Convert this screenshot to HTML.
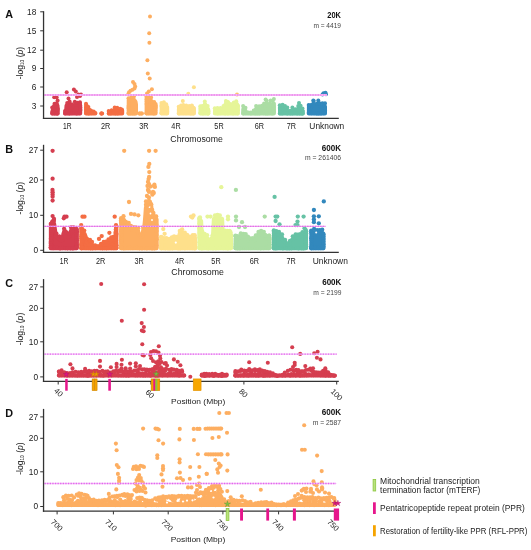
<!DOCTYPE html>
<html><head><meta charset="utf-8"><style>
html,body{margin:0;padding:0;background:#fff;}
body{width:531px;height:550px;overflow:hidden;font-family:"Liberation Sans", sans-serif;}
svg{display:block;will-change:transform;}
</style></head><body>
<svg width="531" height="550" viewBox="0 0 531 550" font-family='"Liberation Sans", sans-serif'>
<rect width="531" height="550" fill="#fff"/>
<path d="M52.4,113.4 L52.4,113.4 L52.4,111.6 L53.0,109.1 L54.0,106.1 L57.5,105.6 L57.7,108.6 L57.7,111.6 L57.7,113.4 Z" fill="#d53e4f" stroke="#d53e4f" stroke-width="4.0" stroke-linejoin="round"/>
<circle cx="52.2" cy="107.6" r="2.0" fill="#d53e4f"/>
<circle cx="54.5" cy="103.8" r="2.0" fill="#d53e4f"/>
<circle cx="56.7" cy="103.3" r="2.0" fill="#d53e4f"/>
<circle cx="52.2" cy="113.6" r="2.0" fill="#d53e4f"/>
<circle cx="54.6" cy="113.6" r="2.0" fill="#d53e4f"/>
<circle cx="56.9" cy="113.6" r="2.0" fill="#d53e4f"/>
<circle cx="52.5" cy="112.0" r="2.0" fill="#d53e4f"/>
<circle cx="57.8" cy="109.0" r="2.0" fill="#d53e4f"/>
<circle cx="57.5" cy="111.0" r="2.0" fill="#d53e4f"/>
<circle cx="57.5" cy="113.6" r="2.0" fill="#d53e4f"/>
<path d="M65.2,113.4 L65.2,113.4 L65.2,113.1 L66.0,112.1 L66.5,105.6 L68.0,104.1 L70.0,104.6 L71.0,107.6 L72.5,106.6 L73.5,105.1 L76.0,104.6 L78.0,105.1 L80.0,104.6 L80.2,106.1 L80.2,113.4 Z" fill="#d53e4f" stroke="#d53e4f" stroke-width="4.0" stroke-linejoin="round"/>
<circle cx="65.0" cy="111.0" r="2.0" fill="#d53e4f"/>
<circle cx="67.2" cy="103.0" r="2.0" fill="#d53e4f"/>
<circle cx="69.6" cy="101.4" r="2.0" fill="#d53e4f"/>
<circle cx="71.8" cy="104.2" r="2.0" fill="#d53e4f"/>
<circle cx="74.8" cy="101.8" r="2.0" fill="#d53e4f"/>
<circle cx="77.5" cy="102.7" r="2.0" fill="#d53e4f"/>
<circle cx="80.0" cy="102.2" r="2.0" fill="#d53e4f"/>
<circle cx="65.0" cy="113.6" r="2.0" fill="#d53e4f"/>
<circle cx="67.1" cy="113.2" r="2.0" fill="#d53e4f"/>
<circle cx="69.4" cy="113.4" r="2.0" fill="#d53e4f"/>
<circle cx="71.9" cy="113.3" r="2.0" fill="#d53e4f"/>
<circle cx="74.1" cy="113.1" r="2.0" fill="#d53e4f"/>
<circle cx="76.7" cy="113.5" r="2.0" fill="#d53e4f"/>
<circle cx="79.2" cy="113.3" r="2.0" fill="#d53e4f"/>
<circle cx="65.5" cy="112.0" r="2.0" fill="#d53e4f"/>
<circle cx="79.7" cy="103.5" r="2.0" fill="#d53e4f"/>
<circle cx="80.1" cy="105.4" r="2.0" fill="#d53e4f"/>
<circle cx="80.3" cy="107.8" r="2.0" fill="#d53e4f"/>
<circle cx="80.4" cy="110.0" r="2.0" fill="#d53e4f"/>
<circle cx="79.9" cy="112.3" r="2.0" fill="#d53e4f"/>
<path d="M86.2,113.4 L86.2,107.6 L86.2,105.6 L87.0,106.1 L88.0,109.1 L90.0,110.1 L91.0,113.1 L94.0,113.4 L95.3,113.4 L95.3,113.4 L95.3,113.4 Z" fill="#f46d43" stroke="#f46d43" stroke-width="4.0" stroke-linejoin="round"/>
<circle cx="86.0" cy="103.8" r="2.0" fill="#f46d43"/>
<circle cx="88.4" cy="107.1" r="2.0" fill="#f46d43"/>
<circle cx="91.2" cy="110.7" r="2.0" fill="#f46d43"/>
<circle cx="93.7" cy="111.6" r="2.0" fill="#f46d43"/>
<circle cx="86.0" cy="113.3" r="2.0" fill="#f46d43"/>
<circle cx="88.6" cy="113.6" r="2.0" fill="#f46d43"/>
<circle cx="91.2" cy="113.2" r="2.0" fill="#f46d43"/>
<circle cx="94.0" cy="113.1" r="2.0" fill="#f46d43"/>
<circle cx="86.3" cy="105.0" r="2.0" fill="#f46d43"/>
<circle cx="86.0" cy="107.3" r="2.0" fill="#f46d43"/>
<circle cx="86.1" cy="109.5" r="2.0" fill="#f46d43"/>
<circle cx="86.0" cy="111.4" r="2.0" fill="#f46d43"/>
<circle cx="95.4" cy="113.0" r="2.0" fill="#f46d43"/>
<path d="M101.6,113.4 L101.6,113.4 L102.0,113.4 L102.2,113.4 L102.2,113.4 Z" fill="#f46d43" stroke="#f46d43" stroke-width="4.0" stroke-linejoin="round"/>
<circle cx="101.4" cy="113.5" r="2.0" fill="#f46d43"/>
<circle cx="101.4" cy="113.6" r="2.0" fill="#f46d43"/>
<path d="M108.9,113.4 L108.9,113.4 L109.0,113.1 L112.0,112.1 L114.0,110.6 L116.0,109.6 L118.0,111.1 L120.0,110.6 L122.2,110.6 L122.2,112.1 L122.2,113.4 Z" fill="#f46d43" stroke="#f46d43" stroke-width="4.0" stroke-linejoin="round"/>
<circle cx="108.7" cy="110.9" r="2.0" fill="#f46d43"/>
<circle cx="111.7" cy="110.2" r="2.0" fill="#f46d43"/>
<circle cx="114.7" cy="107.4" r="2.0" fill="#f46d43"/>
<circle cx="117.2" cy="107.8" r="2.0" fill="#f46d43"/>
<circle cx="120.2" cy="108.8" r="2.0" fill="#f46d43"/>
<circle cx="108.7" cy="113.5" r="2.0" fill="#f46d43"/>
<circle cx="110.8" cy="113.5" r="2.0" fill="#f46d43"/>
<circle cx="113.2" cy="113.2" r="2.0" fill="#f46d43"/>
<circle cx="115.4" cy="113.6" r="2.0" fill="#f46d43"/>
<circle cx="117.7" cy="113.4" r="2.0" fill="#f46d43"/>
<circle cx="120.2" cy="113.0" r="2.0" fill="#f46d43"/>
<circle cx="109.1" cy="112.0" r="2.0" fill="#f46d43"/>
<circle cx="121.9" cy="109.5" r="2.0" fill="#f46d43"/>
<circle cx="121.8" cy="111.3" r="2.0" fill="#f46d43"/>
<path d="M128.7,113.4 L128.7,108.6 L128.7,103.6 L128.7,100.1 L131.0,99.1 L134.0,99.6 L135.5,101.6 L136.0,104.6 L136.0,108.6 L136.0,112.6 L136.0,113.4 Z" fill="#fdae61" stroke="#fdae61" stroke-width="4.0" stroke-linejoin="round"/>
<circle cx="128.5" cy="98.2" r="2.0" fill="#fdae61"/>
<circle cx="131.4" cy="96.5" r="2.0" fill="#fdae61"/>
<circle cx="133.9" cy="96.4" r="2.0" fill="#fdae61"/>
<circle cx="128.5" cy="113.6" r="2.0" fill="#fdae61"/>
<circle cx="130.5" cy="113.5" r="2.0" fill="#fdae61"/>
<circle cx="132.6" cy="113.4" r="2.0" fill="#fdae61"/>
<circle cx="134.5" cy="113.6" r="2.0" fill="#fdae61"/>
<circle cx="128.6" cy="106.0" r="2.0" fill="#fdae61"/>
<circle cx="128.5" cy="108.1" r="2.0" fill="#fdae61"/>
<circle cx="128.9" cy="110.6" r="2.0" fill="#fdae61"/>
<circle cx="128.7" cy="112.5" r="2.0" fill="#fdae61"/>
<circle cx="135.9" cy="110.0" r="2.0" fill="#fdae61"/>
<circle cx="135.6" cy="111.9" r="2.0" fill="#fdae61"/>
<path d="M141.7,113.4 L139.4,113.4 L139.4,113.4 L139.4,113.4 Z" fill="#fdae61" stroke="#fdae61" stroke-width="4.0" stroke-linejoin="round"/>
<circle cx="141.8" cy="113.5" r="2.0" fill="#fdae61"/>
<circle cx="139.5" cy="113.5" r="2.0" fill="#fdae61"/>
<path d="M146.6,113.4 L146.6,101.6 L146.6,99.6 L150.0,99.6 L152.0,101.6 L152.5,104.1 L155.0,104.6 L155.6,106.6 L155.6,113.4 Z" fill="#fdae61" stroke="#fdae61" stroke-width="4.0" stroke-linejoin="round"/>
<circle cx="146.4" cy="96.8" r="2.0" fill="#fdae61"/>
<circle cx="148.8" cy="97.6" r="2.0" fill="#fdae61"/>
<circle cx="151.1" cy="97.4" r="2.0" fill="#fdae61"/>
<circle cx="154.2" cy="102.0" r="2.0" fill="#fdae61"/>
<circle cx="146.4" cy="113.3" r="2.0" fill="#fdae61"/>
<circle cx="148.3" cy="113.3" r="2.0" fill="#fdae61"/>
<circle cx="151.2" cy="113.1" r="2.0" fill="#fdae61"/>
<circle cx="153.8" cy="113.4" r="2.0" fill="#fdae61"/>
<circle cx="146.5" cy="99.0" r="2.0" fill="#fdae61"/>
<circle cx="146.8" cy="101.4" r="2.0" fill="#fdae61"/>
<circle cx="146.6" cy="103.9" r="2.0" fill="#fdae61"/>
<circle cx="147.0" cy="105.8" r="2.0" fill="#fdae61"/>
<circle cx="147.0" cy="108.5" r="2.0" fill="#fdae61"/>
<circle cx="147.0" cy="110.9" r="2.0" fill="#fdae61"/>
<circle cx="146.6" cy="113.3" r="2.0" fill="#fdae61"/>
<circle cx="155.6" cy="104.0" r="2.0" fill="#fdae61"/>
<circle cx="155.8" cy="105.8" r="2.0" fill="#fdae61"/>
<circle cx="155.6" cy="107.8" r="2.0" fill="#fdae61"/>
<circle cx="155.1" cy="110.2" r="2.0" fill="#fdae61"/>
<circle cx="155.1" cy="112.3" r="2.0" fill="#fdae61"/>
<path d="M161.6,113.4 L161.6,108.6 L161.6,105.1 L162.5,104.1 L164.5,105.6 L166.0,107.1 L167.2,107.6 L167.2,109.6 L167.2,113.4 Z" fill="#fee08b" stroke="#fee08b" stroke-width="4.0" stroke-linejoin="round"/>
<circle cx="161.4" cy="102.9" r="2.0" fill="#fee08b"/>
<circle cx="163.9" cy="102.2" r="2.0" fill="#fee08b"/>
<circle cx="166.2" cy="104.2" r="2.0" fill="#fee08b"/>
<circle cx="161.4" cy="113.2" r="2.0" fill="#fee08b"/>
<circle cx="164.2" cy="113.1" r="2.0" fill="#fee08b"/>
<circle cx="166.6" cy="113.2" r="2.0" fill="#fee08b"/>
<circle cx="161.5" cy="106.0" r="2.0" fill="#fee08b"/>
<circle cx="162.0" cy="108.3" r="2.0" fill="#fee08b"/>
<circle cx="161.9" cy="110.8" r="2.0" fill="#fee08b"/>
<circle cx="161.5" cy="113.0" r="2.0" fill="#fee08b"/>
<circle cx="167.2" cy="107.0" r="2.0" fill="#fee08b"/>
<circle cx="166.7" cy="109.5" r="2.0" fill="#fee08b"/>
<circle cx="167.1" cy="111.6" r="2.0" fill="#fee08b"/>
<path d="M178.9,113.4 L178.9,110.6 L178.9,109.1 L181.0,108.6 L183.0,106.6 L185.0,108.6 L187.0,108.6 L189.0,107.6 L191.0,108.6 L193.0,107.6 L193.9,108.6 L193.9,110.6 L193.9,113.4 Z" fill="#fee08b" stroke="#fee08b" stroke-width="4.0" stroke-linejoin="round"/>
<circle cx="178.7" cy="106.8" r="2.0" fill="#fee08b"/>
<circle cx="181.0" cy="105.5" r="2.0" fill="#fee08b"/>
<circle cx="183.3" cy="105.0" r="2.0" fill="#fee08b"/>
<circle cx="186.2" cy="105.5" r="2.0" fill="#fee08b"/>
<circle cx="189.2" cy="105.9" r="2.0" fill="#fee08b"/>
<circle cx="191.9" cy="105.4" r="2.0" fill="#fee08b"/>
<circle cx="178.7" cy="113.5" r="2.0" fill="#fee08b"/>
<circle cx="180.6" cy="113.0" r="2.0" fill="#fee08b"/>
<circle cx="183.2" cy="113.3" r="2.0" fill="#fee08b"/>
<circle cx="186.0" cy="113.3" r="2.0" fill="#fee08b"/>
<circle cx="188.8" cy="113.1" r="2.0" fill="#fee08b"/>
<circle cx="190.9" cy="113.4" r="2.0" fill="#fee08b"/>
<circle cx="193.1" cy="113.5" r="2.0" fill="#fee08b"/>
<circle cx="178.9" cy="108.0" r="2.0" fill="#fee08b"/>
<circle cx="178.8" cy="110.1" r="2.0" fill="#fee08b"/>
<circle cx="178.9" cy="112.7" r="2.0" fill="#fee08b"/>
<circle cx="193.7" cy="108.0" r="2.0" fill="#fee08b"/>
<circle cx="193.8" cy="110.6" r="2.0" fill="#fee08b"/>
<circle cx="193.7" cy="113.1" r="2.0" fill="#fee08b"/>
<path d="M200.5,113.4 L200.5,110.6 L200.5,108.6 L202.0,109.1 L204.0,106.6 L205.0,104.1 L206.0,105.6 L207.0,108.6 L208.4,110.1 L208.4,111.6 L208.4,113.4 Z" fill="#e6f598" stroke="#e6f598" stroke-width="4.0" stroke-linejoin="round"/>
<circle cx="200.3" cy="106.2" r="2.0" fill="#e6f598"/>
<circle cx="202.4" cy="105.9" r="2.0" fill="#e6f598"/>
<circle cx="204.8" cy="101.4" r="2.0" fill="#e6f598"/>
<circle cx="207.7" cy="106.1" r="2.0" fill="#e6f598"/>
<circle cx="200.3" cy="113.2" r="2.0" fill="#e6f598"/>
<circle cx="202.8" cy="113.4" r="2.0" fill="#e6f598"/>
<circle cx="205.2" cy="113.3" r="2.0" fill="#e6f598"/>
<circle cx="207.8" cy="113.5" r="2.0" fill="#e6f598"/>
<circle cx="200.5" cy="108.0" r="2.0" fill="#e6f598"/>
<circle cx="200.8" cy="110.0" r="2.0" fill="#e6f598"/>
<circle cx="200.7" cy="112.2" r="2.0" fill="#e6f598"/>
<circle cx="208.0" cy="109.0" r="2.0" fill="#e6f598"/>
<circle cx="208.2" cy="111.2" r="2.0" fill="#e6f598"/>
<circle cx="208.2" cy="113.4" r="2.0" fill="#e6f598"/>
<path d="M215.0,113.4 L215.0,112.6 L215.0,110.6 L218.0,110.6 L221.0,110.1 L223.0,108.6 L225.0,105.6 L226.5,102.1 L228.0,102.1 L229.0,105.6 L231.0,107.6 L233.0,106.1 L235.0,105.1 L237.0,104.1 L237.8,105.6 L237.8,108.6 L237.8,113.4 Z" fill="#e6f598" stroke="#e6f598" stroke-width="4.0" stroke-linejoin="round"/>
<circle cx="214.8" cy="108.2" r="2.0" fill="#e6f598"/>
<circle cx="217.5" cy="108.0" r="2.0" fill="#e6f598"/>
<circle cx="220.5" cy="108.0" r="2.0" fill="#e6f598"/>
<circle cx="223.5" cy="106.0" r="2.0" fill="#e6f598"/>
<circle cx="225.9" cy="101.0" r="2.0" fill="#e6f598"/>
<circle cx="229.0" cy="103.6" r="2.0" fill="#e6f598"/>
<circle cx="231.2" cy="104.3" r="2.0" fill="#e6f598"/>
<circle cx="233.8" cy="102.5" r="2.0" fill="#e6f598"/>
<circle cx="236.2" cy="101.3" r="2.0" fill="#e6f598"/>
<circle cx="214.8" cy="113.1" r="2.0" fill="#e6f598"/>
<circle cx="217.6" cy="113.5" r="2.0" fill="#e6f598"/>
<circle cx="220.2" cy="113.2" r="2.0" fill="#e6f598"/>
<circle cx="222.2" cy="113.1" r="2.0" fill="#e6f598"/>
<circle cx="225.1" cy="113.5" r="2.0" fill="#e6f598"/>
<circle cx="227.9" cy="113.4" r="2.0" fill="#e6f598"/>
<circle cx="230.3" cy="113.0" r="2.0" fill="#e6f598"/>
<circle cx="233.0" cy="113.5" r="2.0" fill="#e6f598"/>
<circle cx="235.4" cy="113.3" r="2.0" fill="#e6f598"/>
<circle cx="237.6" cy="113.5" r="2.0" fill="#e6f598"/>
<circle cx="215.3" cy="110.0" r="2.0" fill="#e6f598"/>
<circle cx="215.2" cy="111.8" r="2.0" fill="#e6f598"/>
<circle cx="238.0" cy="106.0" r="2.0" fill="#e6f598"/>
<circle cx="237.6" cy="108.1" r="2.0" fill="#e6f598"/>
<circle cx="238.0" cy="110.3" r="2.0" fill="#e6f598"/>
<circle cx="237.4" cy="112.9" r="2.0" fill="#e6f598"/>
<path d="M243.3,113.4 L243.3,110.6 L243.3,109.1 L245.0,110.1 L247.0,113.4 L249.0,113.4 L251.0,113.4 L253.0,113.4 L255.0,110.6 L257.0,107.6 L259.0,108.6 L261.0,109.6 L263.0,108.1 L265.0,104.1 L266.5,103.6 L268.0,106.6 L270.0,105.6 L272.0,104.1 L273.9,103.6 L273.9,105.6 L273.9,109.6 L273.9,113.4 Z" fill="#abdda4" stroke="#abdda4" stroke-width="4.0" stroke-linejoin="round"/>
<circle cx="243.1" cy="106.0" r="2.0" fill="#abdda4"/>
<circle cx="245.5" cy="107.7" r="2.0" fill="#abdda4"/>
<circle cx="248.4" cy="112.5" r="2.0" fill="#abdda4"/>
<circle cx="250.6" cy="112.6" r="2.0" fill="#abdda4"/>
<circle cx="253.7" cy="110.6" r="2.0" fill="#abdda4"/>
<circle cx="256.1" cy="105.9" r="2.0" fill="#abdda4"/>
<circle cx="259.1" cy="106.2" r="2.0" fill="#abdda4"/>
<circle cx="261.9" cy="105.7" r="2.0" fill="#abdda4"/>
<circle cx="264.1" cy="103.6" r="2.0" fill="#abdda4"/>
<circle cx="266.7" cy="100.7" r="2.0" fill="#abdda4"/>
<circle cx="269.7" cy="103.4" r="2.0" fill="#abdda4"/>
<circle cx="272.7" cy="100.7" r="2.0" fill="#abdda4"/>
<circle cx="243.1" cy="113.6" r="2.0" fill="#abdda4"/>
<circle cx="245.8" cy="113.3" r="2.0" fill="#abdda4"/>
<circle cx="248.1" cy="113.3" r="2.0" fill="#abdda4"/>
<circle cx="250.9" cy="113.4" r="2.0" fill="#abdda4"/>
<circle cx="252.9" cy="113.3" r="2.0" fill="#abdda4"/>
<circle cx="255.1" cy="113.5" r="2.0" fill="#abdda4"/>
<circle cx="257.2" cy="113.6" r="2.0" fill="#abdda4"/>
<circle cx="259.3" cy="113.4" r="2.0" fill="#abdda4"/>
<circle cx="261.5" cy="113.1" r="2.0" fill="#abdda4"/>
<circle cx="263.7" cy="113.3" r="2.0" fill="#abdda4"/>
<circle cx="265.8" cy="113.4" r="2.0" fill="#abdda4"/>
<circle cx="267.7" cy="113.4" r="2.0" fill="#abdda4"/>
<circle cx="269.7" cy="113.2" r="2.0" fill="#abdda4"/>
<circle cx="272.1" cy="113.5" r="2.0" fill="#abdda4"/>
<circle cx="243.8" cy="108.0" r="2.0" fill="#abdda4"/>
<circle cx="243.7" cy="109.9" r="2.0" fill="#abdda4"/>
<circle cx="243.4" cy="112.0" r="2.0" fill="#abdda4"/>
<circle cx="273.8" cy="107.0" r="2.0" fill="#abdda4"/>
<circle cx="273.6" cy="109.2" r="2.0" fill="#abdda4"/>
<circle cx="273.9" cy="111.8" r="2.0" fill="#abdda4"/>
<path d="M280.0,113.4 L280.0,110.6 L280.0,107.6 L281.5,106.1 L283.5,108.6 L286.0,109.6 L288.0,111.1 L289.5,113.4 L291.0,112.6 L292.5,110.6 L294.0,110.1 L296.0,111.6 L298.0,109.6 L299.0,106.6 L300.5,108.6 L302.0,110.6 L302.8,111.1 L302.8,113.4 Z" fill="#66c2a5" stroke="#66c2a5" stroke-width="4.0" stroke-linejoin="round"/>
<circle cx="279.8" cy="105.2" r="2.0" fill="#66c2a5"/>
<circle cx="282.6" cy="104.8" r="2.0" fill="#66c2a5"/>
<circle cx="285.0" cy="106.0" r="2.0" fill="#66c2a5"/>
<circle cx="287.3" cy="107.4" r="2.0" fill="#66c2a5"/>
<circle cx="290.2" cy="110.8" r="2.0" fill="#66c2a5"/>
<circle cx="292.4" cy="107.5" r="2.0" fill="#66c2a5"/>
<circle cx="295.4" cy="109.2" r="2.0" fill="#66c2a5"/>
<circle cx="298.2" cy="106.1" r="2.0" fill="#66c2a5"/>
<circle cx="300.6" cy="105.8" r="2.0" fill="#66c2a5"/>
<circle cx="279.8" cy="113.5" r="2.0" fill="#66c2a5"/>
<circle cx="282.1" cy="113.4" r="2.0" fill="#66c2a5"/>
<circle cx="285.0" cy="113.0" r="2.0" fill="#66c2a5"/>
<circle cx="287.4" cy="113.5" r="2.0" fill="#66c2a5"/>
<circle cx="290.3" cy="113.4" r="2.0" fill="#66c2a5"/>
<circle cx="292.5" cy="113.6" r="2.0" fill="#66c2a5"/>
<circle cx="294.8" cy="113.3" r="2.0" fill="#66c2a5"/>
<circle cx="297.2" cy="113.5" r="2.0" fill="#66c2a5"/>
<circle cx="299.6" cy="113.6" r="2.0" fill="#66c2a5"/>
<circle cx="301.8" cy="113.5" r="2.0" fill="#66c2a5"/>
<circle cx="279.8" cy="108.0" r="2.0" fill="#66c2a5"/>
<circle cx="280.0" cy="109.8" r="2.0" fill="#66c2a5"/>
<circle cx="280.2" cy="111.7" r="2.0" fill="#66c2a5"/>
<circle cx="302.5" cy="108.5" r="2.0" fill="#66c2a5"/>
<circle cx="302.5" cy="110.8" r="2.0" fill="#66c2a5"/>
<circle cx="302.7" cy="113.4" r="2.0" fill="#66c2a5"/>
<path d="M308.9,113.4 L308.9,108.6 L308.9,106.6 L311.0,107.1 L313.3,103.6 L315.0,105.6 L317.0,105.6 L318.3,103.6 L320.0,106.1 L322.0,106.6 L324.4,105.1 L325.0,107.1 L325.0,109.6 L325.0,113.4 Z" fill="#3288bd" stroke="#3288bd" stroke-width="4.0" stroke-linejoin="round"/>
<circle cx="308.7" cy="104.9" r="2.0" fill="#3288bd"/>
<circle cx="311.0" cy="104.9" r="2.0" fill="#3288bd"/>
<circle cx="313.7" cy="100.9" r="2.0" fill="#3288bd"/>
<circle cx="316.7" cy="103.7" r="2.0" fill="#3288bd"/>
<circle cx="319.5" cy="103.2" r="2.0" fill="#3288bd"/>
<circle cx="322.4" cy="103.3" r="2.0" fill="#3288bd"/>
<circle cx="325.0" cy="103.2" r="2.0" fill="#3288bd"/>
<circle cx="308.7" cy="113.1" r="2.0" fill="#3288bd"/>
<circle cx="311.4" cy="113.2" r="2.0" fill="#3288bd"/>
<circle cx="314.2" cy="113.2" r="2.0" fill="#3288bd"/>
<circle cx="316.8" cy="113.5" r="2.0" fill="#3288bd"/>
<circle cx="318.7" cy="113.5" r="2.0" fill="#3288bd"/>
<circle cx="321.0" cy="113.5" r="2.0" fill="#3288bd"/>
<circle cx="323.7" cy="113.3" r="2.0" fill="#3288bd"/>
<circle cx="309.1" cy="106.0" r="2.0" fill="#3288bd"/>
<circle cx="309.0" cy="108.4" r="2.0" fill="#3288bd"/>
<circle cx="309.3" cy="110.1" r="2.0" fill="#3288bd"/>
<circle cx="309.1" cy="112.5" r="2.0" fill="#3288bd"/>
<circle cx="324.7" cy="107.0" r="2.0" fill="#3288bd"/>
<circle cx="324.7" cy="108.8" r="2.0" fill="#3288bd"/>
<circle cx="325.1" cy="110.8" r="2.0" fill="#3288bd"/>
<circle cx="324.7" cy="112.8" r="2.0" fill="#3288bd"/>
<circle cx="54.2" cy="97.2" r="2.0" fill="#d53e4f"/>
<circle cx="56.6" cy="97.2" r="2.0" fill="#d53e4f"/>
<circle cx="57.6" cy="100.5" r="2.0" fill="#d53e4f"/>
<circle cx="66.7" cy="92.2" r="2.0" fill="#d53e4f"/>
<circle cx="73.9" cy="89.4" r="2.0" fill="#d53e4f"/>
<circle cx="75.8" cy="91.6" r="2.0" fill="#d53e4f"/>
<circle cx="78.4" cy="94.4" r="2.0" fill="#d53e4f"/>
<circle cx="81.0" cy="94.4" r="2.0" fill="#d53e4f"/>
<circle cx="80.0" cy="96.0" r="2.0" fill="#d53e4f"/>
<circle cx="68.5" cy="98.5" r="2.0" fill="#d53e4f"/>
<circle cx="77.0" cy="97.0" r="2.0" fill="#d53e4f"/>
<circle cx="150.0" cy="16.6" r="2.0" fill="#fdae61"/>
<circle cx="149.2" cy="33.2" r="2.0" fill="#fdae61"/>
<circle cx="149.4" cy="42.8" r="2.0" fill="#fdae61"/>
<circle cx="147.4" cy="60.2" r="2.0" fill="#fdae61"/>
<circle cx="147.8" cy="73.4" r="2.0" fill="#fdae61"/>
<circle cx="149.7" cy="78.5" r="2.0" fill="#fdae61"/>
<circle cx="151.9" cy="89.3" r="2.0" fill="#fdae61"/>
<circle cx="148.8" cy="91.5" r="2.0" fill="#fdae61"/>
<circle cx="147.0" cy="93.5" r="2.0" fill="#fdae61"/>
<circle cx="133.0" cy="81.9" r="2.0" fill="#fdae61"/>
<circle cx="134.5" cy="84.0" r="2.0" fill="#fdae61"/>
<circle cx="135.2" cy="86.5" r="2.0" fill="#fdae61"/>
<circle cx="134.5" cy="88.5" r="2.0" fill="#fdae61"/>
<circle cx="132.5" cy="89.8" r="2.0" fill="#fdae61"/>
<circle cx="130.5" cy="90.7" r="2.0" fill="#fdae61"/>
<circle cx="129.0" cy="92.2" r="2.0" fill="#fdae61"/>
<circle cx="128.3" cy="94.0" r="2.0" fill="#fdae61"/>
<circle cx="182.8" cy="101.0" r="2.0" fill="#fee08b"/>
<circle cx="188.3" cy="93.8" r="2.0" fill="#fee08b"/>
<circle cx="193.9" cy="87.2" r="2.0" fill="#fee08b"/>
<circle cx="273.9" cy="99.1" r="2.0" fill="#abdda4"/>
<circle cx="270.6" cy="100.6" r="2.0" fill="#abdda4"/>
<circle cx="265.6" cy="99.4" r="2.0" fill="#abdda4"/>
<circle cx="299.0" cy="103.1" r="2.0" fill="#66c2a5"/>
<circle cx="323.5" cy="93.2" r="2.0" fill="#3288bd"/>
<circle cx="325.5" cy="92.7" r="2.0" fill="#3288bd"/>
<circle cx="322.5" cy="94.5" r="2.0" fill="#3288bd"/>
<circle cx="326.0" cy="94.3" r="2.0" fill="#3288bd"/>
<circle cx="313.3" cy="100.5" r="2.0" fill="#3288bd"/>
<circle cx="318.3" cy="100.5" r="2.0" fill="#3288bd"/>
<circle cx="237.0" cy="94.4" r="2.0" fill="#fcc36f"/>
<line x1="44.5" y1="95.0" x2="327" y2="95.0" stroke="#f6bcf6" stroke-width="1.8"/>
<line x1="44.5" y1="95.0" x2="327" y2="95.0" stroke="#ee96ee" stroke-width="1.8" stroke-dasharray="1.5 1.1"/>
<line x1="43.55" y1="11.2" x2="43.55" y2="118.89999999999999" stroke="#333333" stroke-width="1.3"/>
<line x1="40.2" y1="11.8" x2="43.55" y2="11.8" stroke="#333333" stroke-width="1"/>
<text x="36.3" y="14.75" font-size="8.3" text-anchor="end" font-weight="normal" fill="#222222" >18</text>
<line x1="40.2" y1="30.8" x2="43.55" y2="30.8" stroke="#333333" stroke-width="1"/>
<text x="36.3" y="33.75" font-size="8.3" text-anchor="end" font-weight="normal" fill="#222222" >15</text>
<line x1="40.2" y1="50.2" x2="43.55" y2="50.2" stroke="#333333" stroke-width="1"/>
<text x="36.3" y="53.15" font-size="8.3" text-anchor="end" font-weight="normal" fill="#222222" >12</text>
<line x1="40.2" y1="68.5" x2="43.55" y2="68.5" stroke="#333333" stroke-width="1"/>
<text x="36.3" y="71.45" font-size="8.3" text-anchor="end" font-weight="normal" fill="#222222" >9</text>
<line x1="40.2" y1="87.0" x2="43.55" y2="87.0" stroke="#333333" stroke-width="1"/>
<text x="36.3" y="89.95" font-size="8.3" text-anchor="end" font-weight="normal" fill="#222222" >6</text>
<line x1="40.2" y1="106.0" x2="43.55" y2="106.0" stroke="#333333" stroke-width="1"/>
<text x="36.3" y="108.95" font-size="8.3" text-anchor="end" font-weight="normal" fill="#222222" >3</text>
<text transform="translate(23.2,63.1) rotate(-90)" font-size="8.6" text-anchor="middle" fill="#222222" textLength="32.5" lengthAdjust="spacingAndGlyphs">-log<tspan font-size="4.8" dy="0.9">10</tspan><tspan dy="-0.9"> (</tspan><tspan font-style="italic">p</tspan>)</text>
<text x="5.2" y="17.5" font-size="10.8" text-anchor="start" font-weight="bold" fill="#111" >A</text>
<line x1="42.9" y1="118.3" x2="338.8" y2="118.3" stroke="#333333" stroke-width="1.3"/>
<text x="67.2" y="129.0" font-size="8.2" text-anchor="middle" font-weight="normal" fill="#222222" textLength="8.6" lengthAdjust="spacingAndGlyphs" >1R</text>
<text x="105.7" y="129.0" font-size="8.2" text-anchor="middle" font-weight="normal" fill="#222222" textLength="9.3" lengthAdjust="spacingAndGlyphs" >2R</text>
<text x="143.9" y="129.0" font-size="8.2" text-anchor="middle" font-weight="normal" fill="#222222" textLength="9.3" lengthAdjust="spacingAndGlyphs" >3R</text>
<text x="176" y="129.0" font-size="8.2" text-anchor="middle" font-weight="normal" fill="#222222" textLength="9.3" lengthAdjust="spacingAndGlyphs" >4R</text>
<text x="219" y="129.0" font-size="8.2" text-anchor="middle" font-weight="normal" fill="#222222" textLength="9.3" lengthAdjust="spacingAndGlyphs" >5R</text>
<text x="259.4" y="129.0" font-size="8.2" text-anchor="middle" font-weight="normal" fill="#222222" textLength="9.3" lengthAdjust="spacingAndGlyphs" >6R</text>
<text x="291.4" y="129.0" font-size="8.2" text-anchor="middle" font-weight="normal" fill="#222222" textLength="9.3" lengthAdjust="spacingAndGlyphs" >7R</text>
<text x="326.8" y="129.0" font-size="8.2" text-anchor="middle" font-weight="normal" fill="#222222" textLength="34.9" lengthAdjust="spacingAndGlyphs" >Unknown</text>
<text x="196.6" y="141.7" font-size="8.4" text-anchor="middle" font-weight="normal" fill="#222222" textLength="52.5" lengthAdjust="spacingAndGlyphs" >Chromosome</text>
<text x="341" y="17.8" font-size="8.4" text-anchor="end" font-weight="bold" fill="#111" textLength="13.7" lengthAdjust="spacingAndGlyphs" >20K</text>
<text x="341" y="27.8" font-size="7.6" text-anchor="end" font-weight="normal" fill="#444" textLength="27.6" lengthAdjust="spacingAndGlyphs" >m = 4419</text>
<path d="M51.0,248.2 L51.0,236.9 L51.0,234.9 L51.0,226.9 L51.5,223.9 L52.5,221.4 L54.0,223.9 L55.0,230.9 L55.8,235.9 L58.0,237.4 L61.0,240.4 L62.5,239.9 L63.5,233.9 L64.5,230.9 L65.5,231.4 L66.5,234.9 L68.0,236.9 L69.5,235.9 L71.0,230.9 L72.0,228.9 L73.5,229.9 L75.0,231.9 L76.7,231.4 L76.7,231.9 L76.7,248.2 Z" fill="#d53e4f" stroke="#d53e4f" stroke-width="4.3" stroke-linejoin="round"/>
<circle cx="50.8" cy="223.9" r="2.15" fill="#d53e4f"/>
<circle cx="53.9" cy="221.0" r="2.15" fill="#d53e4f"/>
<circle cx="56.4" cy="233.6" r="2.15" fill="#d53e4f"/>
<circle cx="59.2" cy="236.3" r="2.15" fill="#d53e4f"/>
<circle cx="61.9" cy="237.7" r="2.15" fill="#d53e4f"/>
<circle cx="64.1" cy="228.8" r="2.15" fill="#d53e4f"/>
<circle cx="66.5" cy="232.6" r="2.15" fill="#d53e4f"/>
<circle cx="68.9" cy="233.7" r="2.15" fill="#d53e4f"/>
<circle cx="71.1" cy="227.4" r="2.15" fill="#d53e4f"/>
<circle cx="73.5" cy="227.5" r="2.15" fill="#d53e4f"/>
<circle cx="76.3" cy="229.2" r="2.15" fill="#d53e4f"/>
<circle cx="50.8" cy="248.1" r="2.15" fill="#d53e4f"/>
<circle cx="53.1" cy="248.2" r="2.15" fill="#d53e4f"/>
<circle cx="55.1" cy="247.9" r="2.15" fill="#d53e4f"/>
<circle cx="57.3" cy="247.9" r="2.15" fill="#d53e4f"/>
<circle cx="60.1" cy="248.4" r="2.15" fill="#d53e4f"/>
<circle cx="62.4" cy="248.0" r="2.15" fill="#d53e4f"/>
<circle cx="65.3" cy="248.2" r="2.15" fill="#d53e4f"/>
<circle cx="67.5" cy="248.3" r="2.15" fill="#d53e4f"/>
<circle cx="70.3" cy="248.3" r="2.15" fill="#d53e4f"/>
<circle cx="72.8" cy="248.4" r="2.15" fill="#d53e4f"/>
<circle cx="75.2" cy="247.9" r="2.15" fill="#d53e4f"/>
<circle cx="51.3" cy="234.2" r="2.15" fill="#d53e4f"/>
<circle cx="51.4" cy="236.4" r="2.15" fill="#d53e4f"/>
<circle cx="50.9" cy="238.7" r="2.15" fill="#d53e4f"/>
<circle cx="51.1" cy="241.3" r="2.15" fill="#d53e4f"/>
<circle cx="50.8" cy="243.1" r="2.15" fill="#d53e4f"/>
<circle cx="51.1" cy="245.3" r="2.15" fill="#d53e4f"/>
<circle cx="50.8" cy="247.3" r="2.15" fill="#d53e4f"/>
<circle cx="76.7" cy="229.2" r="2.15" fill="#d53e4f"/>
<circle cx="76.9" cy="231.6" r="2.15" fill="#d53e4f"/>
<circle cx="76.4" cy="234.1" r="2.15" fill="#d53e4f"/>
<circle cx="76.3" cy="235.9" r="2.15" fill="#d53e4f"/>
<circle cx="76.3" cy="238.3" r="2.15" fill="#d53e4f"/>
<circle cx="76.7" cy="240.3" r="2.15" fill="#d53e4f"/>
<circle cx="76.3" cy="242.4" r="2.15" fill="#d53e4f"/>
<circle cx="76.7" cy="244.7" r="2.15" fill="#d53e4f"/>
<circle cx="76.8" cy="246.9" r="2.15" fill="#d53e4f"/>
<path d="M81.5,248.2 L81.5,230.9 L81.5,227.9 L82.0,228.9 L83.5,232.9 L84.5,233.9 L86.0,237.9 L87.0,241.9 L89.0,243.9 L91.0,244.4 L93.0,245.4 L95.0,247.4 L97.0,248.2 L99.0,248.2 L100.5,246.4 L103.0,244.4 L106.0,243.9 L108.0,241.9 L110.0,241.4 L112.0,239.9 L114.0,238.4 L115.6,236.4 L116.2,228.9 L116.2,226.4 L116.2,227.9 L116.2,248.2 Z" fill="#f46d43" stroke="#f46d43" stroke-width="4.3" stroke-linejoin="round"/>
<circle cx="81.2" cy="225.1" r="2.15" fill="#f46d43"/>
<circle cx="84.2" cy="230.6" r="2.15" fill="#f46d43"/>
<circle cx="87.3" cy="239.1" r="2.15" fill="#f46d43"/>
<circle cx="89.7" cy="241.4" r="2.15" fill="#f46d43"/>
<circle cx="92.0" cy="242.0" r="2.15" fill="#f46d43"/>
<circle cx="95.1" cy="245.4" r="2.15" fill="#f46d43"/>
<circle cx="98.0" cy="246.2" r="2.15" fill="#f46d43"/>
<circle cx="101.0" cy="244.0" r="2.15" fill="#f46d43"/>
<circle cx="103.7" cy="242.0" r="2.15" fill="#f46d43"/>
<circle cx="105.9" cy="241.6" r="2.15" fill="#f46d43"/>
<circle cx="108.5" cy="239.5" r="2.15" fill="#f46d43"/>
<circle cx="111.2" cy="237.5" r="2.15" fill="#f46d43"/>
<circle cx="113.4" cy="236.9" r="2.15" fill="#f46d43"/>
<circle cx="115.7" cy="233.0" r="2.15" fill="#f46d43"/>
<circle cx="81.2" cy="248.3" r="2.15" fill="#f46d43"/>
<circle cx="83.9" cy="247.9" r="2.15" fill="#f46d43"/>
<circle cx="86.0" cy="248.1" r="2.15" fill="#f46d43"/>
<circle cx="88.3" cy="248.1" r="2.15" fill="#f46d43"/>
<circle cx="90.6" cy="248.3" r="2.15" fill="#f46d43"/>
<circle cx="92.6" cy="248.3" r="2.15" fill="#f46d43"/>
<circle cx="95.4" cy="248.2" r="2.15" fill="#f46d43"/>
<circle cx="97.6" cy="247.9" r="2.15" fill="#f46d43"/>
<circle cx="100.4" cy="248.2" r="2.15" fill="#f46d43"/>
<circle cx="102.5" cy="248.3" r="2.15" fill="#f46d43"/>
<circle cx="104.5" cy="248.2" r="2.15" fill="#f46d43"/>
<circle cx="106.5" cy="248.3" r="2.15" fill="#f46d43"/>
<circle cx="108.7" cy="248.1" r="2.15" fill="#f46d43"/>
<circle cx="111.4" cy="248.0" r="2.15" fill="#f46d43"/>
<circle cx="113.8" cy="248.2" r="2.15" fill="#f46d43"/>
<circle cx="116.2" cy="248.2" r="2.15" fill="#f46d43"/>
<circle cx="81.3" cy="228.2" r="2.15" fill="#f46d43"/>
<circle cx="81.9" cy="230.2" r="2.15" fill="#f46d43"/>
<circle cx="81.6" cy="232.0" r="2.15" fill="#f46d43"/>
<circle cx="81.9" cy="234.3" r="2.15" fill="#f46d43"/>
<circle cx="81.4" cy="236.3" r="2.15" fill="#f46d43"/>
<circle cx="81.5" cy="238.3" r="2.15" fill="#f46d43"/>
<circle cx="81.9" cy="240.4" r="2.15" fill="#f46d43"/>
<circle cx="81.9" cy="242.9" r="2.15" fill="#f46d43"/>
<circle cx="81.3" cy="244.7" r="2.15" fill="#f46d43"/>
<circle cx="81.9" cy="247.1" r="2.15" fill="#f46d43"/>
<circle cx="116.0" cy="225.2" r="2.15" fill="#f46d43"/>
<circle cx="116.2" cy="226.9" r="2.15" fill="#f46d43"/>
<circle cx="115.9" cy="229.5" r="2.15" fill="#f46d43"/>
<circle cx="115.8" cy="232.0" r="2.15" fill="#f46d43"/>
<circle cx="116.4" cy="234.0" r="2.15" fill="#f46d43"/>
<circle cx="116.1" cy="235.9" r="2.15" fill="#f46d43"/>
<circle cx="115.8" cy="238.2" r="2.15" fill="#f46d43"/>
<circle cx="116.0" cy="240.6" r="2.15" fill="#f46d43"/>
<circle cx="116.1" cy="243.1" r="2.15" fill="#f46d43"/>
<circle cx="116.4" cy="245.3" r="2.15" fill="#f46d43"/>
<circle cx="116.3" cy="247.8" r="2.15" fill="#f46d43"/>
<path d="M121.3,248.2 L121.3,222.9 L121.3,220.4 L122.0,220.9 L123.5,219.4 L125.0,221.9 L126.0,224.9 L128.0,225.9 L130.0,226.9 L131.0,228.9 L133.0,229.9 L136.0,229.9 L138.0,230.9 L139.0,234.9 L141.0,236.9 L142.5,235.9 L143.5,228.9 L144.5,225.9 L145.0,220.9 L145.5,214.9 L146.0,207.9 L147.0,203.9 L149.0,203.4 L151.0,204.9 L151.5,209.9 L152.5,213.9 L154.5,217.9 L156.5,219.4 L156.5,222.9 L156.5,226.9 L156.5,248.2 Z" fill="#fdae61" stroke="#fdae61" stroke-width="4.3" stroke-linejoin="round"/>
<circle cx="121.1" cy="218.2" r="2.15" fill="#fdae61"/>
<circle cx="123.5" cy="216.2" r="2.15" fill="#fdae61"/>
<circle cx="125.9" cy="222.0" r="2.15" fill="#fdae61"/>
<circle cx="128.7" cy="222.9" r="2.15" fill="#fdae61"/>
<circle cx="130.9" cy="226.0" r="2.15" fill="#fdae61"/>
<circle cx="133.6" cy="227.1" r="2.15" fill="#fdae61"/>
<circle cx="135.9" cy="227.4" r="2.15" fill="#fdae61"/>
<circle cx="138.1" cy="228.2" r="2.15" fill="#fdae61"/>
<circle cx="140.7" cy="234.6" r="2.15" fill="#fdae61"/>
<circle cx="143.4" cy="227.4" r="2.15" fill="#fdae61"/>
<circle cx="146.0" cy="204.7" r="2.15" fill="#fdae61"/>
<circle cx="148.4" cy="201.6" r="2.15" fill="#fdae61"/>
<circle cx="151.2" cy="204.2" r="2.15" fill="#fdae61"/>
<circle cx="153.4" cy="213.0" r="2.15" fill="#fdae61"/>
<circle cx="156.2" cy="216.4" r="2.15" fill="#fdae61"/>
<circle cx="121.1" cy="248.0" r="2.15" fill="#fdae61"/>
<circle cx="123.9" cy="248.3" r="2.15" fill="#fdae61"/>
<circle cx="125.8" cy="248.2" r="2.15" fill="#fdae61"/>
<circle cx="128.1" cy="248.0" r="2.15" fill="#fdae61"/>
<circle cx="130.2" cy="248.0" r="2.15" fill="#fdae61"/>
<circle cx="132.9" cy="248.1" r="2.15" fill="#fdae61"/>
<circle cx="135.0" cy="247.9" r="2.15" fill="#fdae61"/>
<circle cx="137.2" cy="248.0" r="2.15" fill="#fdae61"/>
<circle cx="139.4" cy="248.3" r="2.15" fill="#fdae61"/>
<circle cx="142.0" cy="248.3" r="2.15" fill="#fdae61"/>
<circle cx="144.8" cy="248.2" r="2.15" fill="#fdae61"/>
<circle cx="146.9" cy="248.3" r="2.15" fill="#fdae61"/>
<circle cx="149.3" cy="248.1" r="2.15" fill="#fdae61"/>
<circle cx="152.1" cy="248.4" r="2.15" fill="#fdae61"/>
<circle cx="154.4" cy="248.3" r="2.15" fill="#fdae61"/>
<circle cx="121.1" cy="220.2" r="2.15" fill="#fdae61"/>
<circle cx="121.1" cy="222.0" r="2.15" fill="#fdae61"/>
<circle cx="121.7" cy="224.1" r="2.15" fill="#fdae61"/>
<circle cx="121.6" cy="226.6" r="2.15" fill="#fdae61"/>
<circle cx="121.7" cy="229.2" r="2.15" fill="#fdae61"/>
<circle cx="121.2" cy="231.3" r="2.15" fill="#fdae61"/>
<circle cx="121.6" cy="233.9" r="2.15" fill="#fdae61"/>
<circle cx="121.5" cy="235.7" r="2.15" fill="#fdae61"/>
<circle cx="121.3" cy="237.8" r="2.15" fill="#fdae61"/>
<circle cx="121.2" cy="239.8" r="2.15" fill="#fdae61"/>
<circle cx="121.2" cy="241.6" r="2.15" fill="#fdae61"/>
<circle cx="121.7" cy="243.6" r="2.15" fill="#fdae61"/>
<circle cx="121.7" cy="245.5" r="2.15" fill="#fdae61"/>
<circle cx="121.3" cy="247.4" r="2.15" fill="#fdae61"/>
<circle cx="156.2" cy="224.2" r="2.15" fill="#fdae61"/>
<circle cx="156.7" cy="226.3" r="2.15" fill="#fdae61"/>
<circle cx="156.5" cy="228.5" r="2.15" fill="#fdae61"/>
<circle cx="156.6" cy="231.0" r="2.15" fill="#fdae61"/>
<circle cx="156.1" cy="233.1" r="2.15" fill="#fdae61"/>
<circle cx="156.5" cy="234.9" r="2.15" fill="#fdae61"/>
<circle cx="156.2" cy="237.4" r="2.15" fill="#fdae61"/>
<circle cx="156.7" cy="239.2" r="2.15" fill="#fdae61"/>
<circle cx="156.1" cy="241.0" r="2.15" fill="#fdae61"/>
<circle cx="156.2" cy="243.0" r="2.15" fill="#fdae61"/>
<circle cx="156.5" cy="245.5" r="2.15" fill="#fdae61"/>
<circle cx="156.1" cy="247.5" r="2.15" fill="#fdae61"/>
<path d="M161.3,248.2 L161.3,239.9 L161.3,239.9 L163.0,240.9 L166.0,241.4 L168.0,242.4 L170.0,239.9 L172.0,239.4 L175.0,239.4 L177.0,238.9 L179.0,236.9 L180.0,232.9 L182.0,231.9 L184.0,233.9 L186.0,235.9 L188.0,237.9 L190.0,238.9 L192.0,237.9 L194.0,237.4 L194.8,237.9 L194.8,248.2 Z" fill="#fee08b" stroke="#fee08b" stroke-width="4.3" stroke-linejoin="round"/>
<circle cx="161.1" cy="236.9" r="2.15" fill="#fee08b"/>
<circle cx="163.9" cy="238.1" r="2.15" fill="#fee08b"/>
<circle cx="166.3" cy="238.1" r="2.15" fill="#fee08b"/>
<circle cx="169.2" cy="238.9" r="2.15" fill="#fee08b"/>
<circle cx="171.9" cy="237.5" r="2.15" fill="#fee08b"/>
<circle cx="174.1" cy="236.3" r="2.15" fill="#fee08b"/>
<circle cx="176.7" cy="237.0" r="2.15" fill="#fee08b"/>
<circle cx="179.8" cy="231.0" r="2.15" fill="#fee08b"/>
<circle cx="182.1" cy="229.3" r="2.15" fill="#fee08b"/>
<circle cx="184.8" cy="232.7" r="2.15" fill="#fee08b"/>
<circle cx="187.1" cy="234.8" r="2.15" fill="#fee08b"/>
<circle cx="189.9" cy="236.7" r="2.15" fill="#fee08b"/>
<circle cx="192.8" cy="235.2" r="2.15" fill="#fee08b"/>
<circle cx="161.1" cy="248.3" r="2.15" fill="#fee08b"/>
<circle cx="163.3" cy="248.0" r="2.15" fill="#fee08b"/>
<circle cx="165.3" cy="248.3" r="2.15" fill="#fee08b"/>
<circle cx="168.0" cy="248.3" r="2.15" fill="#fee08b"/>
<circle cx="169.9" cy="248.4" r="2.15" fill="#fee08b"/>
<circle cx="172.4" cy="248.3" r="2.15" fill="#fee08b"/>
<circle cx="175.2" cy="247.9" r="2.15" fill="#fee08b"/>
<circle cx="178.1" cy="248.3" r="2.15" fill="#fee08b"/>
<circle cx="180.1" cy="248.4" r="2.15" fill="#fee08b"/>
<circle cx="182.5" cy="248.0" r="2.15" fill="#fee08b"/>
<circle cx="184.9" cy="248.3" r="2.15" fill="#fee08b"/>
<circle cx="187.2" cy="248.1" r="2.15" fill="#fee08b"/>
<circle cx="189.8" cy="248.0" r="2.15" fill="#fee08b"/>
<circle cx="192.5" cy="248.1" r="2.15" fill="#fee08b"/>
<circle cx="194.5" cy="247.9" r="2.15" fill="#fee08b"/>
<circle cx="161.4" cy="237.2" r="2.15" fill="#fee08b"/>
<circle cx="161.6" cy="239.2" r="2.15" fill="#fee08b"/>
<circle cx="161.2" cy="241.2" r="2.15" fill="#fee08b"/>
<circle cx="161.2" cy="243.1" r="2.15" fill="#fee08b"/>
<circle cx="161.5" cy="245.7" r="2.15" fill="#fee08b"/>
<circle cx="161.3" cy="247.7" r="2.15" fill="#fee08b"/>
<circle cx="194.7" cy="235.2" r="2.15" fill="#fee08b"/>
<circle cx="194.5" cy="237.1" r="2.15" fill="#fee08b"/>
<circle cx="194.4" cy="239.4" r="2.15" fill="#fee08b"/>
<circle cx="194.7" cy="241.3" r="2.15" fill="#fee08b"/>
<circle cx="194.5" cy="243.8" r="2.15" fill="#fee08b"/>
<circle cx="195.0" cy="246.3" r="2.15" fill="#fee08b"/>
<circle cx="195.0" cy="248.4" r="2.15" fill="#fee08b"/>
<path d="M199.6,248.2 L199.6,221.9 L199.6,219.9 L201.0,220.9 L201.5,232.9 L203.0,233.4 L205.0,236.9 L207.0,237.9 L208.5,241.9 L210.0,242.4 L211.0,238.9 L213.0,237.9 L214.0,218.9 L216.0,218.4 L218.0,217.9 L220.0,218.4 L222.0,218.9 L222.5,232.9 L224.0,234.4 L226.0,233.9 L228.0,232.9 L230.0,233.9 L230.9,234.9 L230.9,248.2 Z" fill="#e6f598" stroke="#e6f598" stroke-width="4.3" stroke-linejoin="round"/>
<circle cx="199.3" cy="218.2" r="2.15" fill="#e6f598"/>
<circle cx="202.1" cy="231.1" r="2.15" fill="#e6f598"/>
<circle cx="204.6" cy="234.0" r="2.15" fill="#e6f598"/>
<circle cx="207.1" cy="235.2" r="2.15" fill="#e6f598"/>
<circle cx="210.0" cy="240.3" r="2.15" fill="#e6f598"/>
<circle cx="212.3" cy="235.8" r="2.15" fill="#e6f598"/>
<circle cx="215.0" cy="215.5" r="2.15" fill="#e6f598"/>
<circle cx="217.5" cy="214.8" r="2.15" fill="#e6f598"/>
<circle cx="219.8" cy="215.3" r="2.15" fill="#e6f598"/>
<circle cx="222.6" cy="230.5" r="2.15" fill="#e6f598"/>
<circle cx="224.9" cy="230.7" r="2.15" fill="#e6f598"/>
<circle cx="227.3" cy="230.8" r="2.15" fill="#e6f598"/>
<circle cx="229.6" cy="230.8" r="2.15" fill="#e6f598"/>
<circle cx="199.3" cy="248.0" r="2.15" fill="#e6f598"/>
<circle cx="201.8" cy="248.4" r="2.15" fill="#e6f598"/>
<circle cx="203.8" cy="248.2" r="2.15" fill="#e6f598"/>
<circle cx="206.3" cy="248.1" r="2.15" fill="#e6f598"/>
<circle cx="208.3" cy="248.4" r="2.15" fill="#e6f598"/>
<circle cx="210.9" cy="248.2" r="2.15" fill="#e6f598"/>
<circle cx="213.0" cy="248.3" r="2.15" fill="#e6f598"/>
<circle cx="215.9" cy="248.3" r="2.15" fill="#e6f598"/>
<circle cx="218.3" cy="248.2" r="2.15" fill="#e6f598"/>
<circle cx="220.7" cy="247.9" r="2.15" fill="#e6f598"/>
<circle cx="223.5" cy="248.2" r="2.15" fill="#e6f598"/>
<circle cx="225.7" cy="248.0" r="2.15" fill="#e6f598"/>
<circle cx="227.8" cy="248.4" r="2.15" fill="#e6f598"/>
<circle cx="230.6" cy="248.2" r="2.15" fill="#e6f598"/>
<circle cx="199.6" cy="219.2" r="2.15" fill="#e6f598"/>
<circle cx="199.7" cy="221.7" r="2.15" fill="#e6f598"/>
<circle cx="199.4" cy="223.6" r="2.15" fill="#e6f598"/>
<circle cx="199.8" cy="225.8" r="2.15" fill="#e6f598"/>
<circle cx="199.4" cy="228.4" r="2.15" fill="#e6f598"/>
<circle cx="199.6" cy="230.7" r="2.15" fill="#e6f598"/>
<circle cx="199.5" cy="232.9" r="2.15" fill="#e6f598"/>
<circle cx="199.7" cy="234.9" r="2.15" fill="#e6f598"/>
<circle cx="199.4" cy="237.5" r="2.15" fill="#e6f598"/>
<circle cx="199.9" cy="239.7" r="2.15" fill="#e6f598"/>
<circle cx="199.5" cy="242.3" r="2.15" fill="#e6f598"/>
<circle cx="200.0" cy="244.2" r="2.15" fill="#e6f598"/>
<circle cx="199.7" cy="246.8" r="2.15" fill="#e6f598"/>
<circle cx="230.5" cy="232.2" r="2.15" fill="#e6f598"/>
<circle cx="230.5" cy="234.3" r="2.15" fill="#e6f598"/>
<circle cx="230.6" cy="236.6" r="2.15" fill="#e6f598"/>
<circle cx="230.6" cy="238.5" r="2.15" fill="#e6f598"/>
<circle cx="230.9" cy="240.4" r="2.15" fill="#e6f598"/>
<circle cx="230.6" cy="242.9" r="2.15" fill="#e6f598"/>
<circle cx="231.0" cy="244.8" r="2.15" fill="#e6f598"/>
<circle cx="230.8" cy="247.0" r="2.15" fill="#e6f598"/>
<path d="M235.7,248.2 L235.7,238.9 L236.0,238.9 L238.0,238.4 L240.0,236.9 L243.0,236.4 L245.0,235.9 L247.0,236.9 L248.5,240.4 L251.0,240.9 L254.0,240.9 L256.0,237.9 L258.0,234.9 L260.0,234.2 L263.0,234.2 L265.0,234.9 L266.0,237.9 L268.0,238.4 L269.3,238.4 L269.3,248.2 Z" fill="#abdda4" stroke="#abdda4" stroke-width="4.3" stroke-linejoin="round"/>
<circle cx="235.5" cy="235.6" r="2.15" fill="#abdda4"/>
<circle cx="237.8" cy="236.1" r="2.15" fill="#abdda4"/>
<circle cx="240.8" cy="233.4" r="2.15" fill="#abdda4"/>
<circle cx="243.5" cy="234.0" r="2.15" fill="#abdda4"/>
<circle cx="245.7" cy="234.1" r="2.15" fill="#abdda4"/>
<circle cx="247.9" cy="236.6" r="2.15" fill="#abdda4"/>
<circle cx="250.6" cy="238.4" r="2.15" fill="#abdda4"/>
<circle cx="253.0" cy="238.1" r="2.15" fill="#abdda4"/>
<circle cx="255.8" cy="235.5" r="2.15" fill="#abdda4"/>
<circle cx="258.5" cy="232.0" r="2.15" fill="#abdda4"/>
<circle cx="261.1" cy="230.8" r="2.15" fill="#abdda4"/>
<circle cx="263.8" cy="231.8" r="2.15" fill="#abdda4"/>
<circle cx="266.2" cy="235.7" r="2.15" fill="#abdda4"/>
<circle cx="269.1" cy="235.7" r="2.15" fill="#abdda4"/>
<circle cx="235.5" cy="248.2" r="2.15" fill="#abdda4"/>
<circle cx="237.5" cy="248.4" r="2.15" fill="#abdda4"/>
<circle cx="239.8" cy="248.4" r="2.15" fill="#abdda4"/>
<circle cx="242.2" cy="248.1" r="2.15" fill="#abdda4"/>
<circle cx="244.1" cy="248.1" r="2.15" fill="#abdda4"/>
<circle cx="246.1" cy="248.0" r="2.15" fill="#abdda4"/>
<circle cx="248.8" cy="248.1" r="2.15" fill="#abdda4"/>
<circle cx="250.7" cy="248.1" r="2.15" fill="#abdda4"/>
<circle cx="253.0" cy="247.9" r="2.15" fill="#abdda4"/>
<circle cx="255.1" cy="247.9" r="2.15" fill="#abdda4"/>
<circle cx="258.0" cy="248.0" r="2.15" fill="#abdda4"/>
<circle cx="260.7" cy="248.3" r="2.15" fill="#abdda4"/>
<circle cx="263.5" cy="248.2" r="2.15" fill="#abdda4"/>
<circle cx="266.4" cy="247.9" r="2.15" fill="#abdda4"/>
<circle cx="268.4" cy="248.0" r="2.15" fill="#abdda4"/>
<circle cx="235.5" cy="236.2" r="2.15" fill="#abdda4"/>
<circle cx="236.0" cy="238.2" r="2.15" fill="#abdda4"/>
<circle cx="236.1" cy="240.1" r="2.15" fill="#abdda4"/>
<circle cx="236.0" cy="242.1" r="2.15" fill="#abdda4"/>
<circle cx="235.8" cy="244.0" r="2.15" fill="#abdda4"/>
<circle cx="235.6" cy="246.6" r="2.15" fill="#abdda4"/>
<circle cx="269.2" cy="235.7" r="2.15" fill="#abdda4"/>
<circle cx="269.5" cy="237.7" r="2.15" fill="#abdda4"/>
<circle cx="269.4" cy="239.6" r="2.15" fill="#abdda4"/>
<circle cx="269.1" cy="242.2" r="2.15" fill="#abdda4"/>
<circle cx="269.4" cy="244.7" r="2.15" fill="#abdda4"/>
<circle cx="269.5" cy="247.2" r="2.15" fill="#abdda4"/>
<path d="M274.1,248.2 L274.1,233.9 L274.1,232.9 L277.0,233.4 L279.0,234.4 L281.0,234.9 L282.5,238.9 L284.0,240.9 L286.0,243.4 L288.0,245.9 L289.5,243.9 L291.0,240.9 L293.0,238.9 L295.0,237.4 L298.0,236.9 L300.0,236.4 L302.0,235.4 L303.5,232.9 L305.9,232.4 L305.9,233.9 L305.9,248.2 Z" fill="#66c2a5" stroke="#66c2a5" stroke-width="4.3" stroke-linejoin="round"/>
<circle cx="273.8" cy="230.5" r="2.15" fill="#66c2a5"/>
<circle cx="276.3" cy="231.2" r="2.15" fill="#66c2a5"/>
<circle cx="279.0" cy="231.9" r="2.15" fill="#66c2a5"/>
<circle cx="282.0" cy="234.3" r="2.15" fill="#66c2a5"/>
<circle cx="285.1" cy="239.9" r="2.15" fill="#66c2a5"/>
<circle cx="287.7" cy="243.3" r="2.15" fill="#66c2a5"/>
<circle cx="290.0" cy="240.9" r="2.15" fill="#66c2a5"/>
<circle cx="292.8" cy="236.3" r="2.15" fill="#66c2a5"/>
<circle cx="295.6" cy="234.5" r="2.15" fill="#66c2a5"/>
<circle cx="297.9" cy="234.6" r="2.15" fill="#66c2a5"/>
<circle cx="300.1" cy="234.2" r="2.15" fill="#66c2a5"/>
<circle cx="302.5" cy="232.1" r="2.15" fill="#66c2a5"/>
<circle cx="305.6" cy="229.9" r="2.15" fill="#66c2a5"/>
<circle cx="273.8" cy="248.3" r="2.15" fill="#66c2a5"/>
<circle cx="275.8" cy="248.4" r="2.15" fill="#66c2a5"/>
<circle cx="277.8" cy="248.1" r="2.15" fill="#66c2a5"/>
<circle cx="280.2" cy="248.1" r="2.15" fill="#66c2a5"/>
<circle cx="282.9" cy="248.4" r="2.15" fill="#66c2a5"/>
<circle cx="285.1" cy="248.1" r="2.15" fill="#66c2a5"/>
<circle cx="287.0" cy="248.4" r="2.15" fill="#66c2a5"/>
<circle cx="289.3" cy="248.4" r="2.15" fill="#66c2a5"/>
<circle cx="291.6" cy="248.3" r="2.15" fill="#66c2a5"/>
<circle cx="294.0" cy="248.1" r="2.15" fill="#66c2a5"/>
<circle cx="296.1" cy="248.1" r="2.15" fill="#66c2a5"/>
<circle cx="298.5" cy="248.4" r="2.15" fill="#66c2a5"/>
<circle cx="301.3" cy="248.3" r="2.15" fill="#66c2a5"/>
<circle cx="303.4" cy="248.4" r="2.15" fill="#66c2a5"/>
<circle cx="305.9" cy="247.9" r="2.15" fill="#66c2a5"/>
<circle cx="274.1" cy="231.2" r="2.15" fill="#66c2a5"/>
<circle cx="273.9" cy="233.1" r="2.15" fill="#66c2a5"/>
<circle cx="274.2" cy="235.5" r="2.15" fill="#66c2a5"/>
<circle cx="274.3" cy="237.5" r="2.15" fill="#66c2a5"/>
<circle cx="274.5" cy="239.7" r="2.15" fill="#66c2a5"/>
<circle cx="274.0" cy="242.1" r="2.15" fill="#66c2a5"/>
<circle cx="273.9" cy="244.6" r="2.15" fill="#66c2a5"/>
<circle cx="274.1" cy="246.9" r="2.15" fill="#66c2a5"/>
<circle cx="306.1" cy="231.2" r="2.15" fill="#66c2a5"/>
<circle cx="306.1" cy="233.6" r="2.15" fill="#66c2a5"/>
<circle cx="305.5" cy="235.8" r="2.15" fill="#66c2a5"/>
<circle cx="306.0" cy="237.7" r="2.15" fill="#66c2a5"/>
<circle cx="305.8" cy="240.0" r="2.15" fill="#66c2a5"/>
<circle cx="305.6" cy="242.3" r="2.15" fill="#66c2a5"/>
<circle cx="305.9" cy="244.3" r="2.15" fill="#66c2a5"/>
<circle cx="306.1" cy="246.3" r="2.15" fill="#66c2a5"/>
<path d="M311.5,248.2 L311.5,234.9 L311.5,232.9 L314.0,232.4 L318.0,232.4 L322.0,232.7 L323.4,233.9 L323.4,236.9 L323.4,248.2 Z" fill="#3288bd" stroke="#3288bd" stroke-width="4.3" stroke-linejoin="round"/>
<circle cx="311.2" cy="230.6" r="2.15" fill="#3288bd"/>
<circle cx="314.1" cy="228.9" r="2.15" fill="#3288bd"/>
<circle cx="317.1" cy="230.1" r="2.15" fill="#3288bd"/>
<circle cx="319.7" cy="230.2" r="2.15" fill="#3288bd"/>
<circle cx="322.2" cy="229.7" r="2.15" fill="#3288bd"/>
<circle cx="311.2" cy="248.3" r="2.15" fill="#3288bd"/>
<circle cx="313.2" cy="248.2" r="2.15" fill="#3288bd"/>
<circle cx="315.8" cy="248.0" r="2.15" fill="#3288bd"/>
<circle cx="318.6" cy="248.0" r="2.15" fill="#3288bd"/>
<circle cx="320.8" cy="248.1" r="2.15" fill="#3288bd"/>
<circle cx="323.1" cy="248.0" r="2.15" fill="#3288bd"/>
<circle cx="311.4" cy="232.2" r="2.15" fill="#3288bd"/>
<circle cx="311.9" cy="234.5" r="2.15" fill="#3288bd"/>
<circle cx="311.9" cy="236.4" r="2.15" fill="#3288bd"/>
<circle cx="311.4" cy="238.2" r="2.15" fill="#3288bd"/>
<circle cx="311.8" cy="240.2" r="2.15" fill="#3288bd"/>
<circle cx="311.8" cy="242.8" r="2.15" fill="#3288bd"/>
<circle cx="311.9" cy="244.8" r="2.15" fill="#3288bd"/>
<circle cx="311.4" cy="246.9" r="2.15" fill="#3288bd"/>
<circle cx="323.2" cy="234.2" r="2.15" fill="#3288bd"/>
<circle cx="323.2" cy="236.5" r="2.15" fill="#3288bd"/>
<circle cx="323.3" cy="239.1" r="2.15" fill="#3288bd"/>
<circle cx="323.2" cy="241.6" r="2.15" fill="#3288bd"/>
<circle cx="323.3" cy="244.2" r="2.15" fill="#3288bd"/>
<circle cx="323.3" cy="246.6" r="2.15" fill="#3288bd"/>
<circle cx="150.5" cy="213.5" r="0.9" fill="#fff"/>
<circle cx="152.0" cy="220.0" r="0.9" fill="#fff"/>
<circle cx="149.5" cy="207.0" r="0.9" fill="#fff"/>
<circle cx="52.6" cy="150.8" r="2.15" fill="#d53e4f"/>
<circle cx="52.6" cy="178.7" r="2.15" fill="#d53e4f"/>
<circle cx="52.5" cy="189.9" r="2.15" fill="#d53e4f"/>
<circle cx="52.6" cy="192.2" r="2.15" fill="#d53e4f"/>
<circle cx="52.6" cy="194.4" r="2.15" fill="#d53e4f"/>
<circle cx="52.6" cy="196.7" r="2.15" fill="#d53e4f"/>
<circle cx="52.6" cy="200.6" r="2.15" fill="#d53e4f"/>
<circle cx="52.6" cy="216.1" r="2.15" fill="#d53e4f"/>
<circle cx="54.0" cy="218.9" r="2.15" fill="#d53e4f"/>
<circle cx="52.6" cy="222.8" r="2.15" fill="#d53e4f"/>
<circle cx="64.5" cy="216.7" r="2.15" fill="#d53e4f"/>
<circle cx="66.5" cy="216.7" r="2.15" fill="#d53e4f"/>
<circle cx="63.8" cy="218.3" r="2.15" fill="#d53e4f"/>
<circle cx="82.5" cy="216.7" r="2.15" fill="#f46d43"/>
<circle cx="84.5" cy="216.7" r="2.15" fill="#f46d43"/>
<circle cx="90.0" cy="240.0" r="2.15" fill="#f46d43"/>
<circle cx="99.0" cy="238.9" r="2.15" fill="#f46d43"/>
<circle cx="101.7" cy="236.1" r="2.15" fill="#f46d43"/>
<circle cx="109.4" cy="232.8" r="2.15" fill="#f46d43"/>
<circle cx="114.7" cy="216.7" r="2.15" fill="#f46d43"/>
<circle cx="124.2" cy="150.8" r="2.15" fill="#fdae61"/>
<circle cx="149.1" cy="150.8" r="2.15" fill="#fdae61"/>
<circle cx="155.6" cy="150.8" r="2.15" fill="#fdae61"/>
<circle cx="149.3" cy="163.9" r="2.15" fill="#fdae61"/>
<circle cx="148.4" cy="166.9" r="2.15" fill="#fdae61"/>
<circle cx="149.3" cy="172.1" r="2.15" fill="#fdae61"/>
<circle cx="149.1" cy="176.9" r="2.15" fill="#fdae61"/>
<circle cx="148.6" cy="179.1" r="2.15" fill="#fdae61"/>
<circle cx="148.0" cy="181.9" r="2.15" fill="#fdae61"/>
<circle cx="149.0" cy="184.1" r="2.15" fill="#fdae61"/>
<circle cx="154.4" cy="184.7" r="2.15" fill="#fdae61"/>
<circle cx="154.9" cy="186.9" r="2.15" fill="#fdae61"/>
<circle cx="148.4" cy="190.2" r="2.15" fill="#fdae61"/>
<circle cx="149.0" cy="191.9" r="2.15" fill="#fdae61"/>
<circle cx="153.8" cy="193.0" r="2.15" fill="#fdae61"/>
<circle cx="152.4" cy="194.7" r="2.15" fill="#fdae61"/>
<circle cx="148.9" cy="197.4" r="2.15" fill="#fdae61"/>
<circle cx="149.0" cy="200.8" r="2.15" fill="#fdae61"/>
<circle cx="129.0" cy="202.0" r="2.15" fill="#fdae61"/>
<circle cx="131.0" cy="213.9" r="2.15" fill="#fdae61"/>
<circle cx="134.5" cy="214.4" r="2.15" fill="#fdae61"/>
<circle cx="138.3" cy="215.3" r="2.15" fill="#fdae61"/>
<circle cx="152.2" cy="210.0" r="2.15" fill="#fdae61"/>
<circle cx="155.5" cy="216.7" r="2.15" fill="#fdae61"/>
<circle cx="147.5" cy="186.0" r="2.15" fill="#fdae61"/>
<circle cx="150.5" cy="186.5" r="2.15" fill="#fdae61"/>
<circle cx="154.0" cy="186.0" r="2.15" fill="#fdae61"/>
<circle cx="148.0" cy="190.0" r="2.15" fill="#fdae61"/>
<circle cx="153.0" cy="192.0" r="2.15" fill="#fdae61"/>
<circle cx="147.0" cy="196.0" r="2.15" fill="#fdae61"/>
<circle cx="152.5" cy="193.5" r="2.15" fill="#fdae61"/>
<circle cx="146.0" cy="201.5" r="2.15" fill="#fdae61"/>
<circle cx="150.0" cy="202.0" r="2.15" fill="#fdae61"/>
<circle cx="148.0" cy="205.0" r="2.15" fill="#fdae61"/>
<circle cx="165.5" cy="221.3" r="2.15" fill="#fee08b"/>
<circle cx="163.3" cy="229.1" r="2.15" fill="#fee08b"/>
<circle cx="164.6" cy="233.8" r="2.15" fill="#fee08b"/>
<circle cx="191.0" cy="216.6" r="2.15" fill="#fee08b"/>
<circle cx="193.5" cy="215.5" r="2.15" fill="#fee08b"/>
<circle cx="192.3" cy="217.5" r="2.15" fill="#fee08b"/>
<circle cx="221.3" cy="187.2" r="2.15" fill="#e6f598"/>
<circle cx="207.5" cy="216.6" r="2.15" fill="#e6f598"/>
<circle cx="210.5" cy="216.6" r="2.15" fill="#e6f598"/>
<circle cx="228.0" cy="216.6" r="2.15" fill="#e6f598"/>
<circle cx="228.0" cy="219.3" r="2.15" fill="#e6f598"/>
<circle cx="200.0" cy="217.5" r="2.15" fill="#e6f598"/>
<circle cx="235.9" cy="189.9" r="2.15" fill="#abdda4"/>
<circle cx="236.0" cy="216.6" r="2.15" fill="#abdda4"/>
<circle cx="236.0" cy="220.4" r="2.15" fill="#abdda4"/>
<circle cx="242.0" cy="222.2" r="2.15" fill="#abdda4"/>
<circle cx="239.0" cy="227.0" r="2.15" fill="#abdda4"/>
<circle cx="245.0" cy="227.0" r="2.15" fill="#abdda4"/>
<circle cx="264.7" cy="216.6" r="2.15" fill="#abdda4"/>
<circle cx="274.6" cy="196.9" r="2.15" fill="#66c2a5"/>
<circle cx="275.6" cy="216.6" r="2.15" fill="#66c2a5"/>
<circle cx="277.3" cy="216.6" r="2.15" fill="#66c2a5"/>
<circle cx="275.6" cy="221.0" r="2.15" fill="#66c2a5"/>
<circle cx="279.5" cy="224.3" r="2.15" fill="#66c2a5"/>
<circle cx="295.5" cy="225.1" r="2.15" fill="#66c2a5"/>
<circle cx="297.5" cy="225.1" r="2.15" fill="#66c2a5"/>
<circle cx="297.5" cy="221.6" r="2.15" fill="#66c2a5"/>
<circle cx="297.8" cy="216.6" r="2.15" fill="#66c2a5"/>
<circle cx="303.6" cy="216.6" r="2.15" fill="#66c2a5"/>
<circle cx="304.5" cy="228.2" r="2.15" fill="#66c2a5"/>
<circle cx="323.8" cy="201.4" r="2.15" fill="#3288bd"/>
<circle cx="313.9" cy="210.0" r="2.15" fill="#3288bd"/>
<circle cx="313.9" cy="216.3" r="2.15" fill="#3288bd"/>
<circle cx="318.8" cy="216.3" r="2.15" fill="#3288bd"/>
<circle cx="313.9" cy="219.4" r="2.15" fill="#3288bd"/>
<circle cx="313.9" cy="222.2" r="2.15" fill="#3288bd"/>
<circle cx="318.8" cy="223.3" r="2.15" fill="#3288bd"/>
<circle cx="316.2" cy="232.6" r="1.0" fill="#fff"/>
<circle cx="175.8" cy="242.6" r="1.1" fill="#fff"/>
<line x1="44.5" y1="226.4" x2="325.6" y2="226.4" stroke="#f2a8f2" stroke-width="1.15"/>
<line x1="44.5" y1="226.4" x2="325.6" y2="226.4" stroke="#e272e8" stroke-width="1.15" stroke-dasharray="1.5 1.1"/>
<line x1="43.55" y1="144.8" x2="43.55" y2="252.9" stroke="#333333" stroke-width="1.3"/>
<line x1="40.2" y1="150.2" x2="43.55" y2="150.2" stroke="#333333" stroke-width="1"/>
<text x="38.0" y="153.15" font-size="8.3" text-anchor="end" font-weight="normal" fill="#222222" >27</text>
<line x1="40.2" y1="180.0" x2="43.55" y2="180.0" stroke="#333333" stroke-width="1"/>
<text x="38.0" y="182.95" font-size="8.3" text-anchor="end" font-weight="normal" fill="#222222" >20</text>
<line x1="40.2" y1="215.3" x2="43.55" y2="215.3" stroke="#333333" stroke-width="1"/>
<text x="38.0" y="218.25" font-size="8.3" text-anchor="end" font-weight="normal" fill="#222222" >10</text>
<line x1="40.2" y1="250.3" x2="43.55" y2="250.3" stroke="#333333" stroke-width="1"/>
<text x="38.0" y="253.25" font-size="8.3" text-anchor="end" font-weight="normal" fill="#222222" >0</text>
<text transform="translate(23.2,198.2) rotate(-90)" font-size="8.6" text-anchor="middle" fill="#222222" textLength="32.5" lengthAdjust="spacingAndGlyphs">-log<tspan font-size="4.8" dy="0.9">10</tspan><tspan dy="-0.9"> (</tspan><tspan font-style="italic">p</tspan>)</text>
<text x="5.2" y="152.8" font-size="10.8" text-anchor="start" font-weight="bold" fill="#111" >B</text>
<line x1="42.9" y1="252.3" x2="338.8" y2="252.3" stroke="#333333" stroke-width="1.3"/>
<text x="64.1" y="263.6" font-size="8.2" text-anchor="middle" font-weight="normal" fill="#222222" textLength="8.6" lengthAdjust="spacingAndGlyphs" >1R</text>
<text x="100.6" y="263.6" font-size="8.2" text-anchor="middle" font-weight="normal" fill="#222222" textLength="9.3" lengthAdjust="spacingAndGlyphs" >2R</text>
<text x="139.1" y="263.6" font-size="8.2" text-anchor="middle" font-weight="normal" fill="#222222" textLength="9.3" lengthAdjust="spacingAndGlyphs" >3R</text>
<text x="179.6" y="263.6" font-size="8.2" text-anchor="middle" font-weight="normal" fill="#222222" textLength="9.3" lengthAdjust="spacingAndGlyphs" >4R</text>
<text x="216" y="263.6" font-size="8.2" text-anchor="middle" font-weight="normal" fill="#222222" textLength="9.3" lengthAdjust="spacingAndGlyphs" >5R</text>
<text x="254.3" y="263.6" font-size="8.2" text-anchor="middle" font-weight="normal" fill="#222222" textLength="9.3" lengthAdjust="spacingAndGlyphs" >6R</text>
<text x="291.2" y="263.6" font-size="8.2" text-anchor="middle" font-weight="normal" fill="#222222" textLength="9.3" lengthAdjust="spacingAndGlyphs" >7R</text>
<text x="330.3" y="263.6" font-size="8.2" text-anchor="middle" font-weight="normal" fill="#222222" textLength="35.2" lengthAdjust="spacingAndGlyphs" >Unknown</text>
<text x="197.6" y="275.2" font-size="8.4" text-anchor="middle" font-weight="normal" fill="#222222" textLength="52.5" lengthAdjust="spacingAndGlyphs" >Chromosome</text>
<text x="341" y="150.5" font-size="8.4" text-anchor="end" font-weight="bold" fill="#111" textLength="19.3" lengthAdjust="spacingAndGlyphs" >600K</text>
<text x="341" y="160.3" font-size="7.6" text-anchor="end" font-weight="normal" fill="#444" textLength="36" lengthAdjust="spacingAndGlyphs" >m = 261406</text>
<circle cx="59.1" cy="371.5" r="2.05" fill="#d53e4f"/>
<circle cx="61.3" cy="371.9" r="2.05" fill="#d53e4f"/>
<circle cx="64.2" cy="373.1" r="2.05" fill="#d53e4f"/>
<circle cx="67.5" cy="374.2" r="2.05" fill="#d53e4f"/>
<circle cx="70.4" cy="373.3" r="2.05" fill="#d53e4f"/>
<circle cx="72.8" cy="373.8" r="2.05" fill="#d53e4f"/>
<circle cx="81.7" cy="373.9" r="2.05" fill="#d53e4f"/>
<circle cx="83.9" cy="375.3" r="2.05" fill="#d53e4f"/>
<circle cx="87.3" cy="373.1" r="2.05" fill="#d53e4f"/>
<circle cx="87.3" cy="375.6" r="2.05" fill="#d53e4f"/>
<circle cx="89.3" cy="372.4" r="2.05" fill="#d53e4f"/>
<circle cx="92.4" cy="372.4" r="2.05" fill="#d53e4f"/>
<circle cx="92.3" cy="375.0" r="2.05" fill="#d53e4f"/>
<circle cx="95.2" cy="372.1" r="2.05" fill="#d53e4f"/>
<circle cx="98.5" cy="372.4" r="2.05" fill="#d53e4f"/>
<circle cx="98.1" cy="374.9" r="2.05" fill="#d53e4f"/>
<circle cx="101.2" cy="375.1" r="2.05" fill="#d53e4f"/>
<circle cx="104.1" cy="372.2" r="2.05" fill="#d53e4f"/>
<circle cx="106.1" cy="372.6" r="2.05" fill="#d53e4f"/>
<circle cx="112.1" cy="372.8" r="2.05" fill="#d53e4f"/>
<circle cx="114.9" cy="372.1" r="2.05" fill="#d53e4f"/>
<circle cx="118.2" cy="371.8" r="2.05" fill="#d53e4f"/>
<circle cx="117.9" cy="374.7" r="2.05" fill="#d53e4f"/>
<circle cx="120.7" cy="371.4" r="2.05" fill="#d53e4f"/>
<circle cx="123.6" cy="372.2" r="2.05" fill="#d53e4f"/>
<circle cx="123.3" cy="374.7" r="2.05" fill="#d53e4f"/>
<circle cx="126.5" cy="374.5" r="2.05" fill="#d53e4f"/>
<circle cx="128.7" cy="372.7" r="2.05" fill="#d53e4f"/>
<circle cx="128.8" cy="375.4" r="2.05" fill="#d53e4f"/>
<circle cx="131.7" cy="372.1" r="2.05" fill="#d53e4f"/>
<circle cx="134.4" cy="374.4" r="2.05" fill="#d53e4f"/>
<circle cx="137.7" cy="371.5" r="2.05" fill="#d53e4f"/>
<circle cx="137.0" cy="373.9" r="2.05" fill="#d53e4f"/>
<circle cx="139.8" cy="373.4" r="2.05" fill="#d53e4f"/>
<circle cx="142.6" cy="373.3" r="2.05" fill="#d53e4f"/>
<circle cx="146.1" cy="370.4" r="2.05" fill="#d53e4f"/>
<circle cx="145.5" cy="373.3" r="2.05" fill="#d53e4f"/>
<circle cx="148.2" cy="370.6" r="2.05" fill="#d53e4f"/>
<circle cx="149.0" cy="373.7" r="2.05" fill="#d53e4f"/>
<circle cx="151.8" cy="369.7" r="2.05" fill="#d53e4f"/>
<circle cx="151.8" cy="373.1" r="2.05" fill="#d53e4f"/>
<circle cx="154.1" cy="368.6" r="2.05" fill="#d53e4f"/>
<circle cx="153.8" cy="371.3" r="2.05" fill="#d53e4f"/>
<circle cx="156.5" cy="368.2" r="2.05" fill="#d53e4f"/>
<circle cx="159.8" cy="368.7" r="2.05" fill="#d53e4f"/>
<circle cx="159.4" cy="371.3" r="2.05" fill="#d53e4f"/>
<circle cx="162.8" cy="370.0" r="2.05" fill="#d53e4f"/>
<circle cx="162.6" cy="372.5" r="2.05" fill="#d53e4f"/>
<circle cx="165.1" cy="371.0" r="2.05" fill="#d53e4f"/>
<circle cx="168.5" cy="373.7" r="2.05" fill="#d53e4f"/>
<circle cx="170.9" cy="370.7" r="2.05" fill="#d53e4f"/>
<circle cx="170.5" cy="373.5" r="2.05" fill="#d53e4f"/>
<circle cx="173.9" cy="373.6" r="2.05" fill="#d53e4f"/>
<circle cx="176.5" cy="371.4" r="2.05" fill="#d53e4f"/>
<circle cx="176.7" cy="374.4" r="2.05" fill="#d53e4f"/>
<circle cx="179.5" cy="371.6" r="2.05" fill="#d53e4f"/>
<circle cx="179.3" cy="374.5" r="2.05" fill="#d53e4f"/>
<circle cx="182.2" cy="371.7" r="2.05" fill="#d53e4f"/>
<path d="M59.2,375.5 L59.2,375.5 L59.2,375.5 L62.0,375.5 L66.0,375.5 L70.0,375.5 L75.0,375.5 L80.0,375.5 L85.0,375.5 L90.0,375.5 L95.0,375.5 L100.0,375.5 L105.0,375.5 L110.0,375.5 L115.0,375.5 L120.0,375.5 L125.0,375.5 L130.0,375.5 L135.0,375.5 L140.0,374.7 L143.0,374.7 L146.0,374.7 L150.0,374.7 L153.0,373.2 L156.0,372.2 L159.0,372.2 L162.0,373.2 L165.0,374.7 L170.0,374.7 L175.0,375.2 L180.0,375.2 L183.0,375.5 L184.3,375.5 L184.3,375.5 L184.3,375.5 Z" fill="#d53e4f" stroke="#d53e4f" stroke-width="4.1" stroke-linejoin="round"/>
<circle cx="58.9" cy="371.5" r="2.05" fill="#d53e4f"/>
<circle cx="61.6" cy="370.4" r="2.05" fill="#d53e4f"/>
<circle cx="64.3" cy="372.3" r="2.05" fill="#d53e4f"/>
<circle cx="67.1" cy="373.0" r="2.05" fill="#d53e4f"/>
<circle cx="69.9" cy="373.2" r="2.05" fill="#d53e4f"/>
<circle cx="72.5" cy="372.2" r="2.05" fill="#d53e4f"/>
<circle cx="75.6" cy="371.7" r="2.05" fill="#d53e4f"/>
<circle cx="78.4" cy="372.3" r="2.05" fill="#d53e4f"/>
<circle cx="81.3" cy="371.8" r="2.05" fill="#d53e4f"/>
<circle cx="84.4" cy="371.5" r="2.05" fill="#d53e4f"/>
<circle cx="86.6" cy="371.3" r="2.05" fill="#d53e4f"/>
<circle cx="89.1" cy="370.9" r="2.05" fill="#d53e4f"/>
<circle cx="91.7" cy="371.3" r="2.05" fill="#d53e4f"/>
<circle cx="94.5" cy="370.9" r="2.05" fill="#d53e4f"/>
<circle cx="96.9" cy="370.7" r="2.05" fill="#d53e4f"/>
<circle cx="99.8" cy="371.8" r="2.05" fill="#d53e4f"/>
<circle cx="102.4" cy="370.9" r="2.05" fill="#d53e4f"/>
<circle cx="105.3" cy="371.5" r="2.05" fill="#d53e4f"/>
<circle cx="107.7" cy="371.3" r="2.05" fill="#d53e4f"/>
<circle cx="110.6" cy="372.5" r="2.05" fill="#d53e4f"/>
<circle cx="113.3" cy="371.4" r="2.05" fill="#d53e4f"/>
<circle cx="116.0" cy="370.6" r="2.05" fill="#d53e4f"/>
<circle cx="119.1" cy="370.5" r="2.05" fill="#d53e4f"/>
<circle cx="121.9" cy="371.3" r="2.05" fill="#d53e4f"/>
<circle cx="124.8" cy="371.1" r="2.05" fill="#d53e4f"/>
<circle cx="127.2" cy="371.2" r="2.05" fill="#d53e4f"/>
<circle cx="129.5" cy="371.7" r="2.05" fill="#d53e4f"/>
<circle cx="132.0" cy="371.5" r="2.05" fill="#d53e4f"/>
<circle cx="134.4" cy="370.5" r="2.05" fill="#d53e4f"/>
<circle cx="136.7" cy="370.2" r="2.05" fill="#d53e4f"/>
<circle cx="139.0" cy="369.0" r="2.05" fill="#d53e4f"/>
<circle cx="141.9" cy="369.3" r="2.05" fill="#d53e4f"/>
<circle cx="144.3" cy="369.3" r="2.05" fill="#d53e4f"/>
<circle cx="146.9" cy="369.5" r="2.05" fill="#d53e4f"/>
<circle cx="149.6" cy="369.9" r="2.05" fill="#d53e4f"/>
<circle cx="152.1" cy="369.3" r="2.05" fill="#d53e4f"/>
<circle cx="155.1" cy="366.7" r="2.05" fill="#d53e4f"/>
<circle cx="158.0" cy="367.8" r="2.05" fill="#d53e4f"/>
<circle cx="161.0" cy="367.2" r="2.05" fill="#d53e4f"/>
<circle cx="163.9" cy="369.3" r="2.05" fill="#d53e4f"/>
<circle cx="166.1" cy="368.8" r="2.05" fill="#d53e4f"/>
<circle cx="169.1" cy="369.9" r="2.05" fill="#d53e4f"/>
<circle cx="171.5" cy="369.1" r="2.05" fill="#d53e4f"/>
<circle cx="173.8" cy="369.6" r="2.05" fill="#d53e4f"/>
<circle cx="176.7" cy="369.9" r="2.05" fill="#d53e4f"/>
<circle cx="179.0" cy="370.8" r="2.05" fill="#d53e4f"/>
<circle cx="181.9" cy="370.2" r="2.05" fill="#d53e4f"/>
<circle cx="58.9" cy="375.4" r="2.05" fill="#d53e4f"/>
<circle cx="61.6" cy="375.3" r="2.05" fill="#d53e4f"/>
<circle cx="64.4" cy="375.3" r="2.05" fill="#d53e4f"/>
<circle cx="67.1" cy="375.6" r="2.05" fill="#d53e4f"/>
<circle cx="69.7" cy="375.4" r="2.05" fill="#d53e4f"/>
<circle cx="72.3" cy="375.5" r="2.05" fill="#d53e4f"/>
<circle cx="75.1" cy="375.4" r="2.05" fill="#d53e4f"/>
<circle cx="77.3" cy="375.6" r="2.05" fill="#d53e4f"/>
<circle cx="79.3" cy="375.5" r="2.05" fill="#d53e4f"/>
<circle cx="81.3" cy="375.5" r="2.05" fill="#d53e4f"/>
<circle cx="83.4" cy="375.5" r="2.05" fill="#d53e4f"/>
<circle cx="85.8" cy="375.4" r="2.05" fill="#d53e4f"/>
<circle cx="88.5" cy="375.7" r="2.05" fill="#d53e4f"/>
<circle cx="91.2" cy="375.5" r="2.05" fill="#d53e4f"/>
<circle cx="93.7" cy="375.4" r="2.05" fill="#d53e4f"/>
<circle cx="96.4" cy="375.5" r="2.05" fill="#d53e4f"/>
<circle cx="98.8" cy="375.2" r="2.05" fill="#d53e4f"/>
<circle cx="100.7" cy="375.4" r="2.05" fill="#d53e4f"/>
<circle cx="103.3" cy="375.7" r="2.05" fill="#d53e4f"/>
<circle cx="105.8" cy="375.3" r="2.05" fill="#d53e4f"/>
<circle cx="108.6" cy="375.6" r="2.05" fill="#d53e4f"/>
<circle cx="111.5" cy="375.4" r="2.05" fill="#d53e4f"/>
<circle cx="113.8" cy="375.2" r="2.05" fill="#d53e4f"/>
<circle cx="115.8" cy="375.3" r="2.05" fill="#d53e4f"/>
<circle cx="118.3" cy="375.5" r="2.05" fill="#d53e4f"/>
<circle cx="121.1" cy="375.5" r="2.05" fill="#d53e4f"/>
<circle cx="123.4" cy="375.4" r="2.05" fill="#d53e4f"/>
<circle cx="126.1" cy="375.6" r="2.05" fill="#d53e4f"/>
<circle cx="128.4" cy="375.5" r="2.05" fill="#d53e4f"/>
<circle cx="130.9" cy="375.3" r="2.05" fill="#d53e4f"/>
<circle cx="133.1" cy="375.3" r="2.05" fill="#d53e4f"/>
<circle cx="135.4" cy="375.4" r="2.05" fill="#d53e4f"/>
<circle cx="137.6" cy="375.4" r="2.05" fill="#d53e4f"/>
<circle cx="140.4" cy="375.4" r="2.05" fill="#d53e4f"/>
<circle cx="143.1" cy="375.6" r="2.05" fill="#d53e4f"/>
<circle cx="145.3" cy="375.6" r="2.05" fill="#d53e4f"/>
<circle cx="147.8" cy="375.4" r="2.05" fill="#d53e4f"/>
<circle cx="150.5" cy="375.7" r="2.05" fill="#d53e4f"/>
<circle cx="153.1" cy="375.2" r="2.05" fill="#d53e4f"/>
<circle cx="155.6" cy="375.7" r="2.05" fill="#d53e4f"/>
<circle cx="157.8" cy="375.7" r="2.05" fill="#d53e4f"/>
<circle cx="159.9" cy="375.2" r="2.05" fill="#d53e4f"/>
<circle cx="162.4" cy="375.4" r="2.05" fill="#d53e4f"/>
<circle cx="165.0" cy="375.2" r="2.05" fill="#d53e4f"/>
<circle cx="167.6" cy="375.4" r="2.05" fill="#d53e4f"/>
<circle cx="170.1" cy="375.3" r="2.05" fill="#d53e4f"/>
<circle cx="172.6" cy="375.3" r="2.05" fill="#d53e4f"/>
<circle cx="174.7" cy="375.3" r="2.05" fill="#d53e4f"/>
<circle cx="177.0" cy="375.3" r="2.05" fill="#d53e4f"/>
<circle cx="179.1" cy="375.6" r="2.05" fill="#d53e4f"/>
<circle cx="181.0" cy="375.3" r="2.05" fill="#d53e4f"/>
<circle cx="183.8" cy="375.4" r="2.05" fill="#d53e4f"/>
<circle cx="59.5" cy="372.1" r="2.05" fill="#d53e4f"/>
<circle cx="59.3" cy="374.5" r="2.05" fill="#d53e4f"/>
<circle cx="201.8" cy="375.4" r="2.05" fill="#d53e4f"/>
<circle cx="204.8" cy="376.0" r="2.05" fill="#d53e4f"/>
<circle cx="207.5" cy="375.2" r="2.05" fill="#d53e4f"/>
<circle cx="213.4" cy="375.8" r="2.05" fill="#d53e4f"/>
<circle cx="218.2" cy="375.4" r="2.05" fill="#d53e4f"/>
<circle cx="221.9" cy="376.0" r="2.05" fill="#d53e4f"/>
<circle cx="224.2" cy="375.2" r="2.05" fill="#d53e4f"/>
<path d="M202.1,375.5 L202.1,375.5 L202.1,375.5 L210.0,375.5 L220.0,375.5 L226.6,375.5 L226.6,375.5 Z" fill="#d53e4f" stroke="#d53e4f" stroke-width="4.1" stroke-linejoin="round"/>
<circle cx="201.9" cy="374.6" r="2.05" fill="#d53e4f"/>
<circle cx="204.2" cy="373.9" r="2.05" fill="#d53e4f"/>
<circle cx="206.3" cy="373.7" r="2.05" fill="#d53e4f"/>
<circle cx="209.1" cy="374.0" r="2.05" fill="#d53e4f"/>
<circle cx="212.2" cy="373.9" r="2.05" fill="#d53e4f"/>
<circle cx="215.2" cy="373.9" r="2.05" fill="#d53e4f"/>
<circle cx="217.4" cy="374.8" r="2.05" fill="#d53e4f"/>
<circle cx="219.7" cy="374.7" r="2.05" fill="#d53e4f"/>
<circle cx="222.0" cy="373.7" r="2.05" fill="#d53e4f"/>
<circle cx="224.9" cy="374.8" r="2.05" fill="#d53e4f"/>
<circle cx="201.9" cy="375.3" r="2.05" fill="#d53e4f"/>
<circle cx="203.9" cy="375.4" r="2.05" fill="#d53e4f"/>
<circle cx="206.5" cy="375.5" r="2.05" fill="#d53e4f"/>
<circle cx="209.3" cy="375.6" r="2.05" fill="#d53e4f"/>
<circle cx="212.1" cy="375.3" r="2.05" fill="#d53e4f"/>
<circle cx="214.0" cy="375.7" r="2.05" fill="#d53e4f"/>
<circle cx="216.6" cy="375.3" r="2.05" fill="#d53e4f"/>
<circle cx="218.6" cy="375.6" r="2.05" fill="#d53e4f"/>
<circle cx="221.2" cy="375.7" r="2.05" fill="#d53e4f"/>
<circle cx="224.0" cy="375.5" r="2.05" fill="#d53e4f"/>
<circle cx="225.9" cy="375.5" r="2.05" fill="#d53e4f"/>
<circle cx="202.2" cy="375.1" r="2.05" fill="#d53e4f"/>
<circle cx="226.7" cy="374.6" r="2.05" fill="#d53e4f"/>
<circle cx="235.5" cy="372.7" r="2.05" fill="#d53e4f"/>
<circle cx="235.2" cy="375.5" r="2.05" fill="#d53e4f"/>
<circle cx="240.7" cy="371.0" r="2.05" fill="#d53e4f"/>
<circle cx="244.1" cy="371.2" r="2.05" fill="#d53e4f"/>
<circle cx="244.2" cy="374.4" r="2.05" fill="#d53e4f"/>
<circle cx="246.4" cy="371.1" r="2.05" fill="#d53e4f"/>
<circle cx="249.5" cy="370.9" r="2.05" fill="#d53e4f"/>
<circle cx="251.7" cy="373.2" r="2.05" fill="#d53e4f"/>
<circle cx="255.0" cy="371.1" r="2.05" fill="#d53e4f"/>
<circle cx="258.1" cy="371.1" r="2.05" fill="#d53e4f"/>
<circle cx="260.3" cy="371.5" r="2.05" fill="#d53e4f"/>
<circle cx="263.8" cy="372.4" r="2.05" fill="#d53e4f"/>
<circle cx="263.4" cy="375.5" r="2.05" fill="#d53e4f"/>
<circle cx="266.4" cy="373.6" r="2.05" fill="#d53e4f"/>
<circle cx="269.1" cy="374.2" r="2.05" fill="#d53e4f"/>
<circle cx="271.5" cy="374.5" r="2.05" fill="#d53e4f"/>
<circle cx="285.3" cy="375.5" r="2.05" fill="#d53e4f"/>
<circle cx="288.6" cy="374.7" r="2.05" fill="#d53e4f"/>
<circle cx="291.3" cy="374.0" r="2.05" fill="#d53e4f"/>
<circle cx="293.8" cy="371.1" r="2.05" fill="#d53e4f"/>
<circle cx="294.0" cy="374.2" r="2.05" fill="#d53e4f"/>
<circle cx="297.0" cy="371.3" r="2.05" fill="#d53e4f"/>
<circle cx="297.4" cy="374.3" r="2.05" fill="#d53e4f"/>
<circle cx="299.9" cy="372.9" r="2.05" fill="#d53e4f"/>
<circle cx="299.8" cy="375.2" r="2.05" fill="#d53e4f"/>
<circle cx="302.1" cy="371.5" r="2.05" fill="#d53e4f"/>
<circle cx="305.4" cy="373.7" r="2.05" fill="#d53e4f"/>
<circle cx="308.6" cy="374.2" r="2.05" fill="#d53e4f"/>
<circle cx="313.3" cy="372.5" r="2.05" fill="#d53e4f"/>
<circle cx="313.3" cy="375.1" r="2.05" fill="#d53e4f"/>
<circle cx="316.9" cy="372.9" r="2.05" fill="#d53e4f"/>
<circle cx="322.2" cy="372.4" r="2.05" fill="#d53e4f"/>
<circle cx="322.6" cy="375.0" r="2.05" fill="#d53e4f"/>
<circle cx="325.1" cy="372.2" r="2.05" fill="#d53e4f"/>
<circle cx="324.8" cy="374.4" r="2.05" fill="#d53e4f"/>
<circle cx="328.2" cy="374.1" r="2.05" fill="#d53e4f"/>
<circle cx="330.1" cy="374.8" r="2.05" fill="#d53e4f"/>
<path d="M235.6,375.5 L235.6,375.5 L236.0,375.5 L240.0,375.4 L245.0,375.2 L250.0,374.7 L255.0,374.7 L260.0,374.7 L262.0,375.5 L265.0,375.5 L268.0,375.5 L272.0,375.5 L275.0,375.5 L278.0,375.5 L281.0,375.5 L283.0,375.5 L285.0,375.5 L290.0,375.0 L298.0,375.5 L300.0,375.5 L305.0,375.2 L310.0,375.2 L312.0,375.5 L320.0,375.5 L325.0,375.5 L328.0,375.5 L332.0,375.5 L334.9,375.5 L334.9,375.5 Z" fill="#d53e4f" stroke="#d53e4f" stroke-width="4.1" stroke-linejoin="round"/>
<circle cx="235.4" cy="371.1" r="2.05" fill="#d53e4f"/>
<circle cx="238.4" cy="371.3" r="2.05" fill="#d53e4f"/>
<circle cx="241.3" cy="369.6" r="2.05" fill="#d53e4f"/>
<circle cx="244.3" cy="370.5" r="2.05" fill="#d53e4f"/>
<circle cx="247.0" cy="370.7" r="2.05" fill="#d53e4f"/>
<circle cx="249.2" cy="369.1" r="2.05" fill="#d53e4f"/>
<circle cx="252.1" cy="370.3" r="2.05" fill="#d53e4f"/>
<circle cx="254.9" cy="369.3" r="2.05" fill="#d53e4f"/>
<circle cx="257.6" cy="370.0" r="2.05" fill="#d53e4f"/>
<circle cx="259.8" cy="369.3" r="2.05" fill="#d53e4f"/>
<circle cx="262.2" cy="370.6" r="2.05" fill="#d53e4f"/>
<circle cx="264.8" cy="371.1" r="2.05" fill="#d53e4f"/>
<circle cx="267.2" cy="371.8" r="2.05" fill="#d53e4f"/>
<circle cx="270.0" cy="372.3" r="2.05" fill="#d53e4f"/>
<circle cx="272.8" cy="373.3" r="2.05" fill="#d53e4f"/>
<circle cx="275.0" cy="374.8" r="2.05" fill="#d53e4f"/>
<circle cx="277.3" cy="376.0" r="2.05" fill="#d53e4f"/>
<circle cx="282.6" cy="374.9" r="2.05" fill="#d53e4f"/>
<circle cx="284.8" cy="372.6" r="2.05" fill="#d53e4f"/>
<circle cx="287.8" cy="370.9" r="2.05" fill="#d53e4f"/>
<circle cx="290.4" cy="369.7" r="2.05" fill="#d53e4f"/>
<circle cx="293.3" cy="370.2" r="2.05" fill="#d53e4f"/>
<circle cx="296.1" cy="369.9" r="2.05" fill="#d53e4f"/>
<circle cx="298.4" cy="370.1" r="2.05" fill="#d53e4f"/>
<circle cx="301.2" cy="371.3" r="2.05" fill="#d53e4f"/>
<circle cx="303.5" cy="371.2" r="2.05" fill="#d53e4f"/>
<circle cx="305.9" cy="370.0" r="2.05" fill="#d53e4f"/>
<circle cx="308.2" cy="369.8" r="2.05" fill="#d53e4f"/>
<circle cx="311.2" cy="370.7" r="2.05" fill="#d53e4f"/>
<circle cx="313.4" cy="371.7" r="2.05" fill="#d53e4f"/>
<circle cx="315.9" cy="372.4" r="2.05" fill="#d53e4f"/>
<circle cx="318.1" cy="372.6" r="2.05" fill="#d53e4f"/>
<circle cx="320.3" cy="372.5" r="2.05" fill="#d53e4f"/>
<circle cx="323.1" cy="370.7" r="2.05" fill="#d53e4f"/>
<circle cx="325.7" cy="370.8" r="2.05" fill="#d53e4f"/>
<circle cx="328.1" cy="372.2" r="2.05" fill="#d53e4f"/>
<circle cx="330.6" cy="374.7" r="2.05" fill="#d53e4f"/>
<circle cx="333.7" cy="375.8" r="2.05" fill="#d53e4f"/>
<circle cx="235.4" cy="375.6" r="2.05" fill="#d53e4f"/>
<circle cx="238.1" cy="375.7" r="2.05" fill="#d53e4f"/>
<circle cx="240.7" cy="375.6" r="2.05" fill="#d53e4f"/>
<circle cx="243.6" cy="375.7" r="2.05" fill="#d53e4f"/>
<circle cx="246.3" cy="375.5" r="2.05" fill="#d53e4f"/>
<circle cx="248.4" cy="375.7" r="2.05" fill="#d53e4f"/>
<circle cx="251.1" cy="375.4" r="2.05" fill="#d53e4f"/>
<circle cx="253.2" cy="375.5" r="2.05" fill="#d53e4f"/>
<circle cx="256.0" cy="375.6" r="2.05" fill="#d53e4f"/>
<circle cx="258.4" cy="375.7" r="2.05" fill="#d53e4f"/>
<circle cx="260.5" cy="375.3" r="2.05" fill="#d53e4f"/>
<circle cx="263.1" cy="375.6" r="2.05" fill="#d53e4f"/>
<circle cx="265.1" cy="375.7" r="2.05" fill="#d53e4f"/>
<circle cx="267.6" cy="375.5" r="2.05" fill="#d53e4f"/>
<circle cx="269.8" cy="375.6" r="2.05" fill="#d53e4f"/>
<circle cx="272.3" cy="375.3" r="2.05" fill="#d53e4f"/>
<circle cx="275.0" cy="375.4" r="2.05" fill="#d53e4f"/>
<circle cx="277.1" cy="375.7" r="2.05" fill="#d53e4f"/>
<circle cx="279.8" cy="375.5" r="2.05" fill="#d53e4f"/>
<circle cx="282.4" cy="375.7" r="2.05" fill="#d53e4f"/>
<circle cx="285.1" cy="375.5" r="2.05" fill="#d53e4f"/>
<circle cx="287.8" cy="375.2" r="2.05" fill="#d53e4f"/>
<circle cx="290.2" cy="375.7" r="2.05" fill="#d53e4f"/>
<circle cx="293.0" cy="375.5" r="2.05" fill="#d53e4f"/>
<circle cx="295.7" cy="375.6" r="2.05" fill="#d53e4f"/>
<circle cx="297.8" cy="375.3" r="2.05" fill="#d53e4f"/>
<circle cx="300.1" cy="375.7" r="2.05" fill="#d53e4f"/>
<circle cx="302.4" cy="375.4" r="2.05" fill="#d53e4f"/>
<circle cx="304.3" cy="375.4" r="2.05" fill="#d53e4f"/>
<circle cx="306.7" cy="375.4" r="2.05" fill="#d53e4f"/>
<circle cx="308.7" cy="375.3" r="2.05" fill="#d53e4f"/>
<circle cx="311.4" cy="375.2" r="2.05" fill="#d53e4f"/>
<circle cx="313.6" cy="375.3" r="2.05" fill="#d53e4f"/>
<circle cx="315.9" cy="375.3" r="2.05" fill="#d53e4f"/>
<circle cx="317.9" cy="375.2" r="2.05" fill="#d53e4f"/>
<circle cx="320.7" cy="375.5" r="2.05" fill="#d53e4f"/>
<circle cx="323.1" cy="375.4" r="2.05" fill="#d53e4f"/>
<circle cx="325.6" cy="375.7" r="2.05" fill="#d53e4f"/>
<circle cx="328.4" cy="375.6" r="2.05" fill="#d53e4f"/>
<circle cx="330.5" cy="375.7" r="2.05" fill="#d53e4f"/>
<circle cx="332.7" cy="375.3" r="2.05" fill="#d53e4f"/>
<circle cx="334.6" cy="375.7" r="2.05" fill="#d53e4f"/>
<circle cx="235.5" cy="372.1" r="2.05" fill="#d53e4f"/>
<circle cx="235.8" cy="373.8" r="2.05" fill="#d53e4f"/>
<circle cx="101.2" cy="284.0" r="2.05" fill="#d53e4f"/>
<circle cx="144.1" cy="284.2" r="2.05" fill="#d53e4f"/>
<circle cx="144.1" cy="309.8" r="2.05" fill="#d53e4f"/>
<circle cx="121.8" cy="320.8" r="2.05" fill="#d53e4f"/>
<circle cx="141.7" cy="323.1" r="2.05" fill="#d53e4f"/>
<circle cx="143.9" cy="327.0" r="2.05" fill="#d53e4f"/>
<circle cx="141.8" cy="330.6" r="2.05" fill="#d53e4f"/>
<circle cx="143.6" cy="331.3" r="2.05" fill="#d53e4f"/>
<circle cx="142.3" cy="344.2" r="2.05" fill="#d53e4f"/>
<circle cx="158.8" cy="346.3" r="2.05" fill="#d53e4f"/>
<circle cx="142.5" cy="355.0" r="2.05" fill="#d53e4f"/>
<circle cx="143.8" cy="355.5" r="2.05" fill="#d53e4f"/>
<circle cx="151.0" cy="352.0" r="2.05" fill="#d53e4f"/>
<circle cx="153.5" cy="351.0" r="2.05" fill="#d53e4f"/>
<circle cx="156.0" cy="351.3" r="2.05" fill="#d53e4f"/>
<circle cx="158.5" cy="352.5" r="2.05" fill="#d53e4f"/>
<circle cx="150.3" cy="355.0" r="2.05" fill="#d53e4f"/>
<circle cx="151.2" cy="358.3" r="2.05" fill="#d53e4f"/>
<circle cx="160.0" cy="355.8" r="2.05" fill="#d53e4f"/>
<circle cx="160.3" cy="358.6" r="2.05" fill="#d53e4f"/>
<circle cx="153.0" cy="361.0" r="2.05" fill="#d53e4f"/>
<circle cx="156.0" cy="362.3" r="2.05" fill="#d53e4f"/>
<circle cx="158.3" cy="361.2" r="2.05" fill="#d53e4f"/>
<circle cx="157.5" cy="365.0" r="2.05" fill="#d53e4f"/>
<circle cx="159.5" cy="364.0" r="2.05" fill="#d53e4f"/>
<circle cx="161.5" cy="362.0" r="2.05" fill="#d53e4f"/>
<circle cx="164.5" cy="363.5" r="2.05" fill="#d53e4f"/>
<circle cx="167.0" cy="365.5" r="2.05" fill="#d53e4f"/>
<circle cx="121.9" cy="359.8" r="2.05" fill="#d53e4f"/>
<circle cx="121.5" cy="364.7" r="2.05" fill="#d53e4f"/>
<circle cx="130.1" cy="363.6" r="2.05" fill="#d53e4f"/>
<circle cx="135.8" cy="363.2" r="2.05" fill="#d53e4f"/>
<circle cx="135.8" cy="366.2" r="2.05" fill="#d53e4f"/>
<circle cx="116.6" cy="363.9" r="2.05" fill="#d53e4f"/>
<circle cx="100.0" cy="360.9" r="2.05" fill="#d53e4f"/>
<circle cx="100.0" cy="366.6" r="2.05" fill="#d53e4f"/>
<circle cx="110.9" cy="367.3" r="2.05" fill="#d53e4f"/>
<circle cx="116.6" cy="367.0" r="2.05" fill="#d53e4f"/>
<circle cx="121.5" cy="368.5" r="2.05" fill="#d53e4f"/>
<circle cx="125.6" cy="368.3" r="2.05" fill="#d53e4f"/>
<circle cx="130.1" cy="368.6" r="2.05" fill="#d53e4f"/>
<circle cx="70.4" cy="364.2" r="2.05" fill="#d53e4f"/>
<circle cx="72.5" cy="368.4" r="2.05" fill="#d53e4f"/>
<circle cx="85.1" cy="368.9" r="2.05" fill="#d53e4f"/>
<circle cx="140.0" cy="366.0" r="2.05" fill="#d53e4f"/>
<circle cx="173.9" cy="359.4" r="2.05" fill="#d53e4f"/>
<circle cx="177.7" cy="361.7" r="2.05" fill="#d53e4f"/>
<circle cx="180.4" cy="365.3" r="2.05" fill="#d53e4f"/>
<circle cx="165.8" cy="363.1" r="2.05" fill="#d53e4f"/>
<circle cx="190.3" cy="376.7" r="2.05" fill="#d53e4f"/>
<circle cx="249.2" cy="362.2" r="2.05" fill="#d53e4f"/>
<circle cx="267.8" cy="362.8" r="2.05" fill="#d53e4f"/>
<circle cx="292.2" cy="347.2" r="2.05" fill="#d53e4f"/>
<circle cx="300.2" cy="353.9" r="2.05" fill="#d53e4f"/>
<circle cx="314.2" cy="353.3" r="2.05" fill="#d53e4f"/>
<circle cx="317.6" cy="351.7" r="2.05" fill="#d53e4f"/>
<circle cx="316.9" cy="357.8" r="2.05" fill="#d53e4f"/>
<circle cx="320.5" cy="359.4" r="2.05" fill="#d53e4f"/>
<circle cx="294.7" cy="362.7" r="2.05" fill="#d53e4f"/>
<circle cx="305.3" cy="366.1" r="2.05" fill="#d53e4f"/>
<circle cx="310.3" cy="368.6" r="2.05" fill="#d53e4f"/>
<circle cx="325.3" cy="368.3" r="2.05" fill="#d53e4f"/>
<circle cx="313.0" cy="368.3" r="2.05" fill="#d53e4f"/>
<circle cx="294.7" cy="365.0" r="2.05" fill="#d53e4f"/>
<circle cx="293.0" cy="367.0" r="2.05" fill="#d53e4f"/>
<line x1="44.5" y1="354.1" x2="336.7" y2="354.1" stroke="#f6c2f8" stroke-width="1.45"/>
<line x1="44.5" y1="354.1" x2="336.7" y2="354.1" stroke="#e266ee" stroke-width="1.45" stroke-dasharray="1.3 1.3"/>
<line x1="43.55" y1="279.1" x2="43.55" y2="381.90000000000003" stroke="#333333" stroke-width="1.3"/>
<line x1="40.2" y1="286.9" x2="43.55" y2="286.9" stroke="#333333" stroke-width="1"/>
<text x="38.0" y="289.85" font-size="8.3" text-anchor="end" font-weight="normal" fill="#222222" >27</text>
<line x1="40.2" y1="308.3" x2="43.55" y2="308.3" stroke="#333333" stroke-width="1"/>
<text x="38.0" y="311.25" font-size="8.3" text-anchor="end" font-weight="normal" fill="#222222" >20</text>
<line x1="40.2" y1="341.8" x2="43.55" y2="341.8" stroke="#333333" stroke-width="1"/>
<text x="38.0" y="344.75" font-size="8.3" text-anchor="end" font-weight="normal" fill="#222222" >10</text>
<line x1="40.2" y1="376.9" x2="43.55" y2="376.9" stroke="#333333" stroke-width="1"/>
<text x="38.0" y="379.85" font-size="8.3" text-anchor="end" font-weight="normal" fill="#222222" >0</text>
<text transform="translate(23.2,329) rotate(-90)" font-size="8.6" text-anchor="middle" fill="#222222" textLength="32.5" lengthAdjust="spacingAndGlyphs">-log<tspan font-size="4.8" dy="0.9">10</tspan><tspan dy="-0.9"> (</tspan><tspan font-style="italic">p</tspan>)</text>
<text x="5.2" y="287.2" font-size="10.8" text-anchor="start" font-weight="bold" fill="#111" >C</text>
<line x1="42.9" y1="381.3" x2="338.8" y2="381.3" stroke="#333333" stroke-width="1.3"/>
<line x1="58.2" y1="381.3" x2="58.2" y2="384.5" stroke="#333333" stroke-width="1"/>
<line x1="150.9" y1="381.3" x2="150.9" y2="384.5" stroke="#333333" stroke-width="1"/>
<line x1="243.9" y1="381.3" x2="243.9" y2="384.5" stroke="#333333" stroke-width="1"/>
<line x1="336.7" y1="381.3" x2="336.7" y2="384.5" stroke="#333333" stroke-width="1"/>
<text transform="translate(58.4,392.6) rotate(45)" font-size="7.8" text-anchor="middle" dominant-baseline="central" fill="#222222">40</text>
<text transform="translate(149.8,394) rotate(45)" font-size="7.8" text-anchor="middle" dominant-baseline="central" fill="#222222">60</text>
<text transform="translate(243.3,393.2) rotate(45)" font-size="7.8" text-anchor="middle" dominant-baseline="central" fill="#222222">80</text>
<text transform="translate(336.5,394.8) rotate(45)" font-size="7.8" text-anchor="middle" dominant-baseline="central" fill="#222222">100</text>
<text x="198.2" y="403.8" font-size="7.9" text-anchor="middle" font-weight="normal" fill="#222222" textLength="54.2" lengthAdjust="spacingAndGlyphs" >Position (Mbp)</text>
<text x="341.4" y="285.1" font-size="8.4" text-anchor="end" font-weight="bold" fill="#111" textLength="19.2" lengthAdjust="spacingAndGlyphs" >600K</text>
<text x="341.4" y="295.3" font-size="7.6" text-anchor="end" font-weight="normal" fill="#444" textLength="28.1" lengthAdjust="spacingAndGlyphs" >m = 2199</text>
<rect x="65.2" y="378.9" width="2.50" height="11.80" fill="#e6168c"/>
<rect x="108.3" y="378.9" width="2.60" height="11.80" fill="#e6168c"/>
<rect x="92.1" y="378.9" width="2.50" height="11.80" fill="#f5a300" stroke="#c98200" stroke-width="0.5"/>
<rect x="94.6" y="378.9" width="2.50" height="11.80" fill="#f5a300" stroke="#c98200" stroke-width="0.5"/>
<rect x="151.1" y="378.9" width="8.70" height="11.80" fill="#f5a300" stroke="#c98200" stroke-width="0.5"/>
<rect x="153.3" y="378.9" width="2.10" height="11.80" fill="#e6168c"/>
<rect x="155.4" y="378.9" width="2.00" height="11.80" fill="#8cc63f"/>
<rect x="193.2" y="378.9" width="7.90" height="11.80" fill="#f7a700" stroke="#e08e00" stroke-width="0.5"/>
<polygon points="66.30,371.40 66.90,373.57 69.15,373.47 67.27,374.72 68.06,376.83 66.30,375.42 64.54,376.83 65.33,374.72 63.45,373.47 65.70,373.57" fill="#e6168c" stroke="#b0106a" stroke-width="0.4" stroke-linejoin="round"/>
<polygon points="93.30,371.30 93.90,373.47 96.15,373.37 94.27,374.62 95.06,376.73 93.30,375.32 91.54,376.73 92.33,374.62 90.45,373.37 92.70,373.47" fill="#f2a200" stroke="#c98200" stroke-width="0.4" stroke-linejoin="round"/>
<polygon points="96.30,371.30 96.90,373.47 99.15,373.37 97.27,374.62 98.06,376.73 96.30,375.32 94.54,376.73 95.33,374.62 93.45,373.37 95.70,373.47" fill="#f2a200" stroke="#c98200" stroke-width="0.4" stroke-linejoin="round"/>
<polygon points="109.80,371.20 110.40,373.37 112.65,373.27 110.77,374.52 111.56,376.63 109.80,375.22 108.04,376.63 108.83,374.52 106.95,373.27 109.20,373.37" fill="#e6168c" stroke="#b0106a" stroke-width="0.4" stroke-linejoin="round"/>
<polygon points="156.20,370.90 156.82,373.15 159.15,373.04 157.20,374.33 158.02,376.51 156.20,375.05 154.38,376.51 155.20,374.33 153.25,373.04 155.58,373.15" fill="#7dc242" stroke="#5a9a2a" stroke-width="0.4" stroke-linejoin="round"/>
<circle cx="58.6" cy="504.0" r="2.05" fill="#fdae61"/>
<circle cx="63.5" cy="497.6" r="2.05" fill="#fdae61"/>
<circle cx="64.0" cy="500.5" r="2.05" fill="#fdae61"/>
<circle cx="63.9" cy="503.0" r="2.05" fill="#fdae61"/>
<circle cx="67.1" cy="496.3" r="2.05" fill="#fdae61"/>
<circle cx="67.0" cy="499.0" r="2.05" fill="#fdae61"/>
<circle cx="69.5" cy="499.5" r="2.05" fill="#fdae61"/>
<circle cx="69.4" cy="502.3" r="2.05" fill="#fdae61"/>
<circle cx="72.1" cy="500.1" r="2.05" fill="#fdae61"/>
<circle cx="72.8" cy="503.2" r="2.05" fill="#fdae61"/>
<circle cx="78.0" cy="495.8" r="2.05" fill="#fdae61"/>
<circle cx="77.9" cy="500.8" r="2.05" fill="#fdae61"/>
<circle cx="80.8" cy="494.6" r="2.05" fill="#fdae61"/>
<circle cx="80.8" cy="497.3" r="2.05" fill="#fdae61"/>
<circle cx="81.2" cy="500.7" r="2.05" fill="#fdae61"/>
<circle cx="83.9" cy="498.2" r="2.05" fill="#fdae61"/>
<circle cx="86.5" cy="495.3" r="2.05" fill="#fdae61"/>
<circle cx="86.1" cy="498.2" r="2.05" fill="#fdae61"/>
<circle cx="88.9" cy="498.1" r="2.05" fill="#fdae61"/>
<circle cx="89.6" cy="500.6" r="2.05" fill="#fdae61"/>
<circle cx="89.3" cy="503.1" r="2.05" fill="#fdae61"/>
<circle cx="92.4" cy="501.1" r="2.05" fill="#fdae61"/>
<circle cx="91.9" cy="503.8" r="2.05" fill="#fdae61"/>
<circle cx="94.4" cy="501.4" r="2.05" fill="#fdae61"/>
<circle cx="94.7" cy="504.2" r="2.05" fill="#fdae61"/>
<circle cx="97.1" cy="501.7" r="2.05" fill="#fdae61"/>
<circle cx="100.4" cy="501.7" r="2.05" fill="#fdae61"/>
<circle cx="100.6" cy="504.2" r="2.05" fill="#fdae61"/>
<circle cx="103.3" cy="501.4" r="2.05" fill="#fdae61"/>
<circle cx="102.9" cy="503.8" r="2.05" fill="#fdae61"/>
<circle cx="105.8" cy="501.0" r="2.05" fill="#fdae61"/>
<circle cx="105.8" cy="504.0" r="2.05" fill="#fdae61"/>
<circle cx="108.8" cy="499.9" r="2.05" fill="#fdae61"/>
<circle cx="109.2" cy="502.4" r="2.05" fill="#fdae61"/>
<circle cx="111.1" cy="501.2" r="2.05" fill="#fdae61"/>
<circle cx="111.1" cy="503.4" r="2.05" fill="#fdae61"/>
<circle cx="114.6" cy="496.8" r="2.05" fill="#fdae61"/>
<circle cx="114.8" cy="500.2" r="2.05" fill="#fdae61"/>
<circle cx="114.2" cy="502.5" r="2.05" fill="#fdae61"/>
<circle cx="117.3" cy="497.1" r="2.05" fill="#fdae61"/>
<circle cx="117.4" cy="502.4" r="2.05" fill="#fdae61"/>
<circle cx="120.2" cy="499.5" r="2.05" fill="#fdae61"/>
<circle cx="123.1" cy="495.5" r="2.05" fill="#fdae61"/>
<circle cx="122.7" cy="501.9" r="2.05" fill="#fdae61"/>
<circle cx="125.5" cy="495.9" r="2.05" fill="#fdae61"/>
<circle cx="125.4" cy="501.0" r="2.05" fill="#fdae61"/>
<circle cx="128.6" cy="495.4" r="2.05" fill="#fdae61"/>
<circle cx="128.4" cy="498.2" r="2.05" fill="#fdae61"/>
<circle cx="128.6" cy="501.4" r="2.05" fill="#fdae61"/>
<circle cx="131.1" cy="496.0" r="2.05" fill="#fdae61"/>
<circle cx="130.8" cy="499.1" r="2.05" fill="#fdae61"/>
<circle cx="130.7" cy="502.2" r="2.05" fill="#fdae61"/>
<circle cx="134.3" cy="502.9" r="2.05" fill="#fdae61"/>
<circle cx="136.7" cy="502.3" r="2.05" fill="#fdae61"/>
<circle cx="136.3" cy="504.7" r="2.05" fill="#fdae61"/>
<circle cx="140.0" cy="498.9" r="2.05" fill="#fdae61"/>
<circle cx="140.0" cy="501.4" r="2.05" fill="#fdae61"/>
<circle cx="139.7" cy="504.0" r="2.05" fill="#fdae61"/>
<circle cx="142.4" cy="499.0" r="2.05" fill="#fdae61"/>
<circle cx="142.4" cy="504.1" r="2.05" fill="#fdae61"/>
<circle cx="145.1" cy="502.3" r="2.05" fill="#fdae61"/>
<circle cx="145.5" cy="505.4" r="2.05" fill="#fdae61"/>
<circle cx="147.9" cy="502.4" r="2.05" fill="#fdae61"/>
<circle cx="150.8" cy="501.5" r="2.05" fill="#fdae61"/>
<circle cx="150.6" cy="504.4" r="2.05" fill="#fdae61"/>
<circle cx="153.2" cy="503.9" r="2.05" fill="#fdae61"/>
<circle cx="156.7" cy="499.7" r="2.05" fill="#fdae61"/>
<circle cx="156.0" cy="504.4" r="2.05" fill="#fdae61"/>
<circle cx="159.2" cy="497.9" r="2.05" fill="#fdae61"/>
<circle cx="159.3" cy="501.0" r="2.05" fill="#fdae61"/>
<circle cx="159.6" cy="503.7" r="2.05" fill="#fdae61"/>
<circle cx="161.9" cy="498.3" r="2.05" fill="#fdae61"/>
<circle cx="162.1" cy="500.2" r="2.05" fill="#fdae61"/>
<circle cx="162.3" cy="503.5" r="2.05" fill="#fdae61"/>
<circle cx="164.4" cy="498.0" r="2.05" fill="#fdae61"/>
<circle cx="164.5" cy="500.8" r="2.05" fill="#fdae61"/>
<circle cx="165.2" cy="503.5" r="2.05" fill="#fdae61"/>
<circle cx="167.2" cy="497.6" r="2.05" fill="#fdae61"/>
<circle cx="167.2" cy="503.1" r="2.05" fill="#fdae61"/>
<circle cx="170.7" cy="498.1" r="2.05" fill="#fdae61"/>
<circle cx="169.9" cy="503.7" r="2.05" fill="#fdae61"/>
<circle cx="173.4" cy="497.7" r="2.05" fill="#fdae61"/>
<circle cx="172.9" cy="500.2" r="2.05" fill="#fdae61"/>
<circle cx="175.8" cy="497.5" r="2.05" fill="#fdae61"/>
<circle cx="175.5" cy="500.6" r="2.05" fill="#fdae61"/>
<circle cx="176.4" cy="502.9" r="2.05" fill="#fdae61"/>
<circle cx="178.5" cy="496.8" r="2.05" fill="#fdae61"/>
<circle cx="181.9" cy="497.4" r="2.05" fill="#fdae61"/>
<circle cx="181.7" cy="500.2" r="2.05" fill="#fdae61"/>
<circle cx="182.0" cy="502.2" r="2.05" fill="#fdae61"/>
<circle cx="184.6" cy="496.7" r="2.05" fill="#fdae61"/>
<circle cx="184.7" cy="499.7" r="2.05" fill="#fdae61"/>
<circle cx="186.8" cy="496.8" r="2.05" fill="#fdae61"/>
<circle cx="187.6" cy="499.4" r="2.05" fill="#fdae61"/>
<circle cx="186.8" cy="502.4" r="2.05" fill="#fdae61"/>
<circle cx="189.9" cy="496.4" r="2.05" fill="#fdae61"/>
<circle cx="190.3" cy="499.4" r="2.05" fill="#fdae61"/>
<circle cx="189.6" cy="502.1" r="2.05" fill="#fdae61"/>
<circle cx="192.3" cy="497.3" r="2.05" fill="#fdae61"/>
<circle cx="192.4" cy="500.0" r="2.05" fill="#fdae61"/>
<circle cx="192.5" cy="502.8" r="2.05" fill="#fdae61"/>
<circle cx="195.5" cy="497.1" r="2.05" fill="#fdae61"/>
<circle cx="195.4" cy="502.4" r="2.05" fill="#fdae61"/>
<circle cx="198.8" cy="493.9" r="2.05" fill="#fdae61"/>
<circle cx="198.1" cy="499.5" r="2.05" fill="#fdae61"/>
<circle cx="201.4" cy="493.3" r="2.05" fill="#fdae61"/>
<circle cx="201.0" cy="498.6" r="2.05" fill="#fdae61"/>
<circle cx="203.7" cy="493.3" r="2.05" fill="#fdae61"/>
<circle cx="204.0" cy="495.7" r="2.05" fill="#fdae61"/>
<circle cx="204.2" cy="498.2" r="2.05" fill="#fdae61"/>
<circle cx="206.8" cy="490.8" r="2.05" fill="#fdae61"/>
<circle cx="206.3" cy="493.4" r="2.05" fill="#fdae61"/>
<circle cx="209.7" cy="489.1" r="2.05" fill="#fdae61"/>
<circle cx="209.4" cy="492.2" r="2.05" fill="#fdae61"/>
<circle cx="209.1" cy="494.7" r="2.05" fill="#fdae61"/>
<circle cx="212.0" cy="488.7" r="2.05" fill="#fdae61"/>
<circle cx="212.3" cy="491.6" r="2.05" fill="#fdae61"/>
<circle cx="214.9" cy="492.9" r="2.05" fill="#fdae61"/>
<circle cx="218.1" cy="487.8" r="2.05" fill="#fdae61"/>
<circle cx="218.1" cy="490.8" r="2.05" fill="#fdae61"/>
<circle cx="218.3" cy="493.2" r="2.05" fill="#fdae61"/>
<circle cx="220.4" cy="489.1" r="2.05" fill="#fdae61"/>
<circle cx="223.1" cy="499.9" r="2.05" fill="#fdae61"/>
<circle cx="223.2" cy="502.8" r="2.05" fill="#fdae61"/>
<circle cx="225.9" cy="502.5" r="2.05" fill="#fdae61"/>
<circle cx="228.8" cy="502.3" r="2.05" fill="#fdae61"/>
<circle cx="229.4" cy="504.4" r="2.05" fill="#fdae61"/>
<circle cx="232.1" cy="501.6" r="2.05" fill="#fdae61"/>
<circle cx="232.3" cy="504.7" r="2.05" fill="#fdae61"/>
<circle cx="234.3" cy="501.9" r="2.05" fill="#fdae61"/>
<circle cx="234.3" cy="504.0" r="2.05" fill="#fdae61"/>
<circle cx="237.8" cy="501.3" r="2.05" fill="#fdae61"/>
<circle cx="240.5" cy="504.3" r="2.05" fill="#fdae61"/>
<circle cx="245.5" cy="503.2" r="2.05" fill="#fdae61"/>
<circle cx="249.2" cy="503.3" r="2.05" fill="#fdae61"/>
<circle cx="257.1" cy="504.1" r="2.05" fill="#fdae61"/>
<circle cx="259.9" cy="504.0" r="2.05" fill="#fdae61"/>
<circle cx="265.8" cy="503.0" r="2.05" fill="#fdae61"/>
<circle cx="268.7" cy="503.4" r="2.05" fill="#fdae61"/>
<circle cx="271.6" cy="504.4" r="2.05" fill="#fdae61"/>
<circle cx="287.7" cy="504.0" r="2.05" fill="#fdae61"/>
<circle cx="290.7" cy="502.6" r="2.05" fill="#fdae61"/>
<circle cx="293.2" cy="501.6" r="2.05" fill="#fdae61"/>
<circle cx="293.3" cy="503.8" r="2.05" fill="#fdae61"/>
<circle cx="296.3" cy="500.9" r="2.05" fill="#fdae61"/>
<circle cx="296.1" cy="503.6" r="2.05" fill="#fdae61"/>
<circle cx="299.2" cy="498.3" r="2.05" fill="#fdae61"/>
<circle cx="299.4" cy="503.6" r="2.05" fill="#fdae61"/>
<circle cx="302.0" cy="497.7" r="2.05" fill="#fdae61"/>
<circle cx="304.5" cy="497.5" r="2.05" fill="#fdae61"/>
<circle cx="304.3" cy="500.2" r="2.05" fill="#fdae61"/>
<circle cx="305.0" cy="503.0" r="2.05" fill="#fdae61"/>
<circle cx="307.4" cy="498.0" r="2.05" fill="#fdae61"/>
<circle cx="307.2" cy="500.3" r="2.05" fill="#fdae61"/>
<circle cx="308.0" cy="503.6" r="2.05" fill="#fdae61"/>
<circle cx="310.6" cy="498.8" r="2.05" fill="#fdae61"/>
<circle cx="310.0" cy="501.0" r="2.05" fill="#fdae61"/>
<circle cx="310.0" cy="503.8" r="2.05" fill="#fdae61"/>
<circle cx="313.6" cy="498.8" r="2.05" fill="#fdae61"/>
<circle cx="313.6" cy="501.5" r="2.05" fill="#fdae61"/>
<circle cx="312.9" cy="503.7" r="2.05" fill="#fdae61"/>
<circle cx="316.2" cy="498.9" r="2.05" fill="#fdae61"/>
<circle cx="315.6" cy="501.4" r="2.05" fill="#fdae61"/>
<circle cx="319.0" cy="501.5" r="2.05" fill="#fdae61"/>
<circle cx="321.2" cy="499.5" r="2.05" fill="#fdae61"/>
<circle cx="321.4" cy="501.9" r="2.05" fill="#fdae61"/>
<circle cx="321.9" cy="504.3" r="2.05" fill="#fdae61"/>
<circle cx="324.4" cy="499.4" r="2.05" fill="#fdae61"/>
<circle cx="324.8" cy="505.1" r="2.05" fill="#fdae61"/>
<circle cx="327.1" cy="498.6" r="2.05" fill="#fdae61"/>
<circle cx="327.2" cy="501.3" r="2.05" fill="#fdae61"/>
<circle cx="326.8" cy="504.3" r="2.05" fill="#fdae61"/>
<circle cx="329.5" cy="500.9" r="2.05" fill="#fdae61"/>
<circle cx="330.2" cy="503.2" r="2.05" fill="#fdae61"/>
<path d="M58.6,504.9 L58.6,504.9 L59.0,504.9 L61.2,504.9 L62.0,504.9 L64.0,504.4 L66.0,503.2 L69.0,502.7 L72.0,503.7 L74.0,504.9 L76.0,502.7 L78.0,501.7 L81.5,501.4 L86.0,501.7 L88.5,503.2 L90.5,504.9 L95.0,504.9 L100.0,504.9 L105.0,504.9 L108.0,504.9 L110.0,504.9 L112.0,504.2 L114.0,503.7 L117.0,503.2 L120.0,503.0 L124.0,502.2 L127.0,501.9 L130.0,502.2 L132.0,503.2 L133.5,504.9 L135.0,504.9 L136.5,504.9 L140.0,504.9 L143.0,504.9 L145.0,504.9 L148.0,504.9 L150.0,504.9 L154.0,504.9 L157.0,504.9 L160.0,504.4 L165.0,504.4 L172.0,504.4 L180.0,503.5 L190.0,503.3 L195.0,503.7 L198.0,500.7 L202.0,499.7 L205.0,499.2 L207.0,497.2 L210.0,495.7 L213.0,494.7 L217.0,494.2 L220.0,494.7 L221.5,497.2 L222.5,501.7 L223.5,504.9 L225.0,504.9 L226.0,504.9 L230.0,504.9 L235.0,504.9 L240.0,504.9 L245.0,504.9 L250.0,504.9 L252.0,504.9 L258.0,504.9 L263.0,504.9 L270.0,504.9 L275.0,504.9 L280.0,504.9 L285.0,504.9 L290.0,504.9 L293.0,504.9 L297.0,504.9 L300.0,504.2 L305.0,504.1 L310.0,504.7 L314.0,504.9 L318.0,504.7 L322.0,504.9 L326.0,504.9 L330.0,504.7 L334.0,504.9 L334.5,504.9 L334.5,504.9 Z" fill="#fdae61" stroke="#fdae61" stroke-width="4.1" stroke-linejoin="round"/>
<circle cx="58.3" cy="503.1" r="2.05" fill="#fdae61"/>
<circle cx="60.8" cy="503.0" r="2.05" fill="#fdae61"/>
<circle cx="63.4" cy="497.1" r="2.05" fill="#fdae61"/>
<circle cx="65.9" cy="495.6" r="2.05" fill="#fdae61"/>
<circle cx="68.7" cy="495.7" r="2.05" fill="#fdae61"/>
<circle cx="71.7" cy="495.5" r="2.05" fill="#fdae61"/>
<circle cx="74.1" cy="497.4" r="2.05" fill="#fdae61"/>
<circle cx="76.8" cy="494.5" r="2.05" fill="#fdae61"/>
<circle cx="79.1" cy="493.4" r="2.05" fill="#fdae61"/>
<circle cx="81.6" cy="493.8" r="2.05" fill="#fdae61"/>
<circle cx="84.7" cy="494.7" r="2.05" fill="#fdae61"/>
<circle cx="87.6" cy="495.9" r="2.05" fill="#fdae61"/>
<circle cx="90.7" cy="499.9" r="2.05" fill="#fdae61"/>
<circle cx="93.7" cy="499.6" r="2.05" fill="#fdae61"/>
<circle cx="96.5" cy="500.7" r="2.05" fill="#fdae61"/>
<circle cx="98.9" cy="500.6" r="2.05" fill="#fdae61"/>
<circle cx="102.0" cy="500.3" r="2.05" fill="#fdae61"/>
<circle cx="104.7" cy="499.8" r="2.05" fill="#fdae61"/>
<circle cx="107.2" cy="500.0" r="2.05" fill="#fdae61"/>
<circle cx="109.4" cy="497.9" r="2.05" fill="#fdae61"/>
<circle cx="112.2" cy="496.5" r="2.05" fill="#fdae61"/>
<circle cx="114.4" cy="496.3" r="2.05" fill="#fdae61"/>
<circle cx="116.9" cy="495.8" r="2.05" fill="#fdae61"/>
<circle cx="119.4" cy="495.5" r="2.05" fill="#fdae61"/>
<circle cx="122.1" cy="494.8" r="2.05" fill="#fdae61"/>
<circle cx="124.3" cy="494.1" r="2.05" fill="#fdae61"/>
<circle cx="127.4" cy="494.4" r="2.05" fill="#fdae61"/>
<circle cx="129.6" cy="495.2" r="2.05" fill="#fdae61"/>
<circle cx="132.0" cy="495.0" r="2.05" fill="#fdae61"/>
<circle cx="134.6" cy="501.5" r="2.05" fill="#fdae61"/>
<circle cx="137.2" cy="498.1" r="2.05" fill="#fdae61"/>
<circle cx="139.6" cy="497.6" r="2.05" fill="#fdae61"/>
<circle cx="141.8" cy="497.9" r="2.05" fill="#fdae61"/>
<circle cx="144.5" cy="499.8" r="2.05" fill="#fdae61"/>
<circle cx="147.1" cy="500.4" r="2.05" fill="#fdae61"/>
<circle cx="149.6" cy="500.9" r="2.05" fill="#fdae61"/>
<circle cx="152.3" cy="500.2" r="2.05" fill="#fdae61"/>
<circle cx="155.2" cy="498.2" r="2.05" fill="#fdae61"/>
<circle cx="158.3" cy="497.6" r="2.05" fill="#fdae61"/>
<circle cx="160.5" cy="497.4" r="2.05" fill="#fdae61"/>
<circle cx="163.1" cy="496.3" r="2.05" fill="#fdae61"/>
<circle cx="166.1" cy="496.9" r="2.05" fill="#fdae61"/>
<circle cx="169.0" cy="496.2" r="2.05" fill="#fdae61"/>
<circle cx="172.0" cy="496.1" r="2.05" fill="#fdae61"/>
<circle cx="174.3" cy="496.4" r="2.05" fill="#fdae61"/>
<circle cx="176.5" cy="496.5" r="2.05" fill="#fdae61"/>
<circle cx="178.8" cy="495.7" r="2.05" fill="#fdae61"/>
<circle cx="181.6" cy="495.8" r="2.05" fill="#fdae61"/>
<circle cx="184.6" cy="496.0" r="2.05" fill="#fdae61"/>
<circle cx="187.6" cy="495.9" r="2.05" fill="#fdae61"/>
<circle cx="190.7" cy="496.4" r="2.05" fill="#fdae61"/>
<circle cx="193.0" cy="496.4" r="2.05" fill="#fdae61"/>
<circle cx="195.4" cy="496.1" r="2.05" fill="#fdae61"/>
<circle cx="198.2" cy="493.6" r="2.05" fill="#fdae61"/>
<circle cx="200.5" cy="492.3" r="2.05" fill="#fdae61"/>
<circle cx="203.4" cy="492.6" r="2.05" fill="#fdae61"/>
<circle cx="206.2" cy="489.7" r="2.05" fill="#fdae61"/>
<circle cx="208.9" cy="488.0" r="2.05" fill="#fdae61"/>
<circle cx="211.6" cy="488.1" r="2.05" fill="#fdae61"/>
<circle cx="213.8" cy="487.7" r="2.05" fill="#fdae61"/>
<circle cx="216.6" cy="486.3" r="2.05" fill="#fdae61"/>
<circle cx="219.0" cy="486.9" r="2.05" fill="#fdae61"/>
<circle cx="221.9" cy="491.7" r="2.05" fill="#fdae61"/>
<circle cx="224.2" cy="499.2" r="2.05" fill="#fdae61"/>
<circle cx="226.4" cy="502.0" r="2.05" fill="#fdae61"/>
<circle cx="228.7" cy="501.0" r="2.05" fill="#fdae61"/>
<circle cx="231.1" cy="500.9" r="2.05" fill="#fdae61"/>
<circle cx="233.6" cy="499.9" r="2.05" fill="#fdae61"/>
<circle cx="236.6" cy="500.5" r="2.05" fill="#fdae61"/>
<circle cx="239.4" cy="500.9" r="2.05" fill="#fdae61"/>
<circle cx="242.5" cy="500.2" r="2.05" fill="#fdae61"/>
<circle cx="245.0" cy="501.0" r="2.05" fill="#fdae61"/>
<circle cx="247.6" cy="502.4" r="2.05" fill="#fdae61"/>
<circle cx="250.5" cy="501.8" r="2.05" fill="#fdae61"/>
<circle cx="252.8" cy="504.3" r="2.05" fill="#fdae61"/>
<circle cx="255.6" cy="503.4" r="2.05" fill="#fdae61"/>
<circle cx="258.2" cy="502.7" r="2.05" fill="#fdae61"/>
<circle cx="261.2" cy="502.4" r="2.05" fill="#fdae61"/>
<circle cx="264.2" cy="502.4" r="2.05" fill="#fdae61"/>
<circle cx="266.4" cy="502.1" r="2.05" fill="#fdae61"/>
<circle cx="268.8" cy="503.2" r="2.05" fill="#fdae61"/>
<circle cx="271.5" cy="502.6" r="2.05" fill="#fdae61"/>
<circle cx="273.8" cy="504.1" r="2.05" fill="#fdae61"/>
<circle cx="276.4" cy="505.1" r="2.05" fill="#fdae61"/>
<circle cx="278.9" cy="504.9" r="2.05" fill="#fdae61"/>
<circle cx="281.0" cy="505.2" r="2.05" fill="#fdae61"/>
<circle cx="283.5" cy="504.2" r="2.05" fill="#fdae61"/>
<circle cx="286.0" cy="505.1" r="2.05" fill="#fdae61"/>
<circle cx="288.2" cy="502.6" r="2.05" fill="#fdae61"/>
<circle cx="291.0" cy="501.2" r="2.05" fill="#fdae61"/>
<circle cx="293.4" cy="500.3" r="2.05" fill="#fdae61"/>
<circle cx="295.8" cy="499.6" r="2.05" fill="#fdae61"/>
<circle cx="298.5" cy="498.7" r="2.05" fill="#fdae61"/>
<circle cx="301.6" cy="495.9" r="2.05" fill="#fdae61"/>
<circle cx="304.3" cy="497.0" r="2.05" fill="#fdae61"/>
<circle cx="307.3" cy="497.2" r="2.05" fill="#fdae61"/>
<circle cx="310.0" cy="497.3" r="2.05" fill="#fdae61"/>
<circle cx="312.5" cy="497.1" r="2.05" fill="#fdae61"/>
<circle cx="315.4" cy="498.0" r="2.05" fill="#fdae61"/>
<circle cx="318.5" cy="497.5" r="2.05" fill="#fdae61"/>
<circle cx="320.9" cy="498.3" r="2.05" fill="#fdae61"/>
<circle cx="323.8" cy="498.1" r="2.05" fill="#fdae61"/>
<circle cx="326.5" cy="497.8" r="2.05" fill="#fdae61"/>
<circle cx="329.2" cy="497.2" r="2.05" fill="#fdae61"/>
<circle cx="331.4" cy="497.0" r="2.05" fill="#fdae61"/>
<circle cx="333.8" cy="498.4" r="2.05" fill="#fdae61"/>
<circle cx="58.3" cy="504.9" r="2.05" fill="#fdae61"/>
<circle cx="60.5" cy="505.0" r="2.05" fill="#fdae61"/>
<circle cx="62.8" cy="505.1" r="2.05" fill="#fdae61"/>
<circle cx="64.7" cy="504.6" r="2.05" fill="#fdae61"/>
<circle cx="67.0" cy="504.9" r="2.05" fill="#fdae61"/>
<circle cx="69.5" cy="505.0" r="2.05" fill="#fdae61"/>
<circle cx="71.6" cy="505.1" r="2.05" fill="#fdae61"/>
<circle cx="73.8" cy="505.0" r="2.05" fill="#fdae61"/>
<circle cx="76.4" cy="504.8" r="2.05" fill="#fdae61"/>
<circle cx="79.2" cy="504.9" r="2.05" fill="#fdae61"/>
<circle cx="82.0" cy="504.8" r="2.05" fill="#fdae61"/>
<circle cx="84.0" cy="505.0" r="2.05" fill="#fdae61"/>
<circle cx="86.5" cy="504.6" r="2.05" fill="#fdae61"/>
<circle cx="88.8" cy="504.7" r="2.05" fill="#fdae61"/>
<circle cx="91.1" cy="504.6" r="2.05" fill="#fdae61"/>
<circle cx="93.1" cy="504.9" r="2.05" fill="#fdae61"/>
<circle cx="95.9" cy="505.0" r="2.05" fill="#fdae61"/>
<circle cx="98.0" cy="505.1" r="2.05" fill="#fdae61"/>
<circle cx="100.1" cy="505.0" r="2.05" fill="#fdae61"/>
<circle cx="102.7" cy="505.0" r="2.05" fill="#fdae61"/>
<circle cx="105.0" cy="505.0" r="2.05" fill="#fdae61"/>
<circle cx="107.5" cy="504.6" r="2.05" fill="#fdae61"/>
<circle cx="110.1" cy="505.0" r="2.05" fill="#fdae61"/>
<circle cx="112.7" cy="504.6" r="2.05" fill="#fdae61"/>
<circle cx="115.2" cy="505.1" r="2.05" fill="#fdae61"/>
<circle cx="117.9" cy="504.6" r="2.05" fill="#fdae61"/>
<circle cx="120.1" cy="505.1" r="2.05" fill="#fdae61"/>
<circle cx="122.2" cy="504.8" r="2.05" fill="#fdae61"/>
<circle cx="125.0" cy="504.8" r="2.05" fill="#fdae61"/>
<circle cx="127.8" cy="505.0" r="2.05" fill="#fdae61"/>
<circle cx="130.0" cy="504.7" r="2.05" fill="#fdae61"/>
<circle cx="132.6" cy="504.9" r="2.05" fill="#fdae61"/>
<circle cx="135.1" cy="504.9" r="2.05" fill="#fdae61"/>
<circle cx="137.1" cy="504.9" r="2.05" fill="#fdae61"/>
<circle cx="139.1" cy="504.8" r="2.05" fill="#fdae61"/>
<circle cx="141.3" cy="504.9" r="2.05" fill="#fdae61"/>
<circle cx="143.8" cy="505.0" r="2.05" fill="#fdae61"/>
<circle cx="146.2" cy="505.1" r="2.05" fill="#fdae61"/>
<circle cx="149.0" cy="504.8" r="2.05" fill="#fdae61"/>
<circle cx="151.9" cy="505.1" r="2.05" fill="#fdae61"/>
<circle cx="154.4" cy="504.7" r="2.05" fill="#fdae61"/>
<circle cx="156.6" cy="505.1" r="2.05" fill="#fdae61"/>
<circle cx="158.7" cy="505.1" r="2.05" fill="#fdae61"/>
<circle cx="161.3" cy="505.1" r="2.05" fill="#fdae61"/>
<circle cx="164.0" cy="504.9" r="2.05" fill="#fdae61"/>
<circle cx="166.5" cy="504.8" r="2.05" fill="#fdae61"/>
<circle cx="168.9" cy="504.8" r="2.05" fill="#fdae61"/>
<circle cx="171.4" cy="505.0" r="2.05" fill="#fdae61"/>
<circle cx="174.1" cy="505.0" r="2.05" fill="#fdae61"/>
<circle cx="176.7" cy="504.7" r="2.05" fill="#fdae61"/>
<circle cx="179.3" cy="505.0" r="2.05" fill="#fdae61"/>
<circle cx="182.0" cy="504.6" r="2.05" fill="#fdae61"/>
<circle cx="184.3" cy="505.0" r="2.05" fill="#fdae61"/>
<circle cx="186.8" cy="504.6" r="2.05" fill="#fdae61"/>
<circle cx="188.8" cy="505.1" r="2.05" fill="#fdae61"/>
<circle cx="191.2" cy="504.8" r="2.05" fill="#fdae61"/>
<circle cx="193.8" cy="504.9" r="2.05" fill="#fdae61"/>
<circle cx="196.7" cy="505.0" r="2.05" fill="#fdae61"/>
<circle cx="199.4" cy="505.1" r="2.05" fill="#fdae61"/>
<circle cx="201.3" cy="505.1" r="2.05" fill="#fdae61"/>
<circle cx="203.3" cy="504.8" r="2.05" fill="#fdae61"/>
<circle cx="205.7" cy="505.0" r="2.05" fill="#fdae61"/>
<circle cx="208.6" cy="504.9" r="2.05" fill="#fdae61"/>
<circle cx="210.6" cy="505.0" r="2.05" fill="#fdae61"/>
<circle cx="213.3" cy="504.6" r="2.05" fill="#fdae61"/>
<circle cx="215.3" cy="505.1" r="2.05" fill="#fdae61"/>
<circle cx="218.0" cy="505.0" r="2.05" fill="#fdae61"/>
<circle cx="220.9" cy="504.9" r="2.05" fill="#fdae61"/>
<circle cx="223.4" cy="504.9" r="2.05" fill="#fdae61"/>
<circle cx="226.1" cy="504.9" r="2.05" fill="#fdae61"/>
<circle cx="228.3" cy="504.6" r="2.05" fill="#fdae61"/>
<circle cx="230.3" cy="504.7" r="2.05" fill="#fdae61"/>
<circle cx="232.3" cy="504.8" r="2.05" fill="#fdae61"/>
<circle cx="234.6" cy="504.6" r="2.05" fill="#fdae61"/>
<circle cx="236.6" cy="504.8" r="2.05" fill="#fdae61"/>
<circle cx="238.9" cy="504.6" r="2.05" fill="#fdae61"/>
<circle cx="241.7" cy="504.8" r="2.05" fill="#fdae61"/>
<circle cx="243.9" cy="505.0" r="2.05" fill="#fdae61"/>
<circle cx="246.0" cy="504.9" r="2.05" fill="#fdae61"/>
<circle cx="248.2" cy="505.0" r="2.05" fill="#fdae61"/>
<circle cx="250.8" cy="504.8" r="2.05" fill="#fdae61"/>
<circle cx="253.0" cy="504.6" r="2.05" fill="#fdae61"/>
<circle cx="255.2" cy="504.8" r="2.05" fill="#fdae61"/>
<circle cx="257.2" cy="504.6" r="2.05" fill="#fdae61"/>
<circle cx="260.0" cy="505.0" r="2.05" fill="#fdae61"/>
<circle cx="262.6" cy="504.7" r="2.05" fill="#fdae61"/>
<circle cx="264.8" cy="505.0" r="2.05" fill="#fdae61"/>
<circle cx="267.2" cy="504.6" r="2.05" fill="#fdae61"/>
<circle cx="269.3" cy="504.7" r="2.05" fill="#fdae61"/>
<circle cx="271.8" cy="504.9" r="2.05" fill="#fdae61"/>
<circle cx="274.3" cy="504.6" r="2.05" fill="#fdae61"/>
<circle cx="276.4" cy="504.6" r="2.05" fill="#fdae61"/>
<circle cx="278.6" cy="504.7" r="2.05" fill="#fdae61"/>
<circle cx="281.4" cy="505.0" r="2.05" fill="#fdae61"/>
<circle cx="284.1" cy="504.6" r="2.05" fill="#fdae61"/>
<circle cx="286.4" cy="505.1" r="2.05" fill="#fdae61"/>
<circle cx="288.4" cy="504.6" r="2.05" fill="#fdae61"/>
<circle cx="290.3" cy="504.6" r="2.05" fill="#fdae61"/>
<circle cx="292.4" cy="504.7" r="2.05" fill="#fdae61"/>
<circle cx="294.4" cy="505.0" r="2.05" fill="#fdae61"/>
<circle cx="297.0" cy="505.1" r="2.05" fill="#fdae61"/>
<circle cx="299.2" cy="504.6" r="2.05" fill="#fdae61"/>
<circle cx="301.8" cy="504.6" r="2.05" fill="#fdae61"/>
<circle cx="304.7" cy="505.1" r="2.05" fill="#fdae61"/>
<circle cx="306.8" cy="504.7" r="2.05" fill="#fdae61"/>
<circle cx="309.4" cy="505.1" r="2.05" fill="#fdae61"/>
<circle cx="311.8" cy="505.0" r="2.05" fill="#fdae61"/>
<circle cx="314.1" cy="505.1" r="2.05" fill="#fdae61"/>
<circle cx="316.1" cy="504.6" r="2.05" fill="#fdae61"/>
<circle cx="318.3" cy="504.6" r="2.05" fill="#fdae61"/>
<circle cx="320.3" cy="504.9" r="2.05" fill="#fdae61"/>
<circle cx="322.4" cy="504.9" r="2.05" fill="#fdae61"/>
<circle cx="324.5" cy="504.7" r="2.05" fill="#fdae61"/>
<circle cx="326.5" cy="504.7" r="2.05" fill="#fdae61"/>
<circle cx="328.9" cy="505.1" r="2.05" fill="#fdae61"/>
<circle cx="331.2" cy="504.9" r="2.05" fill="#fdae61"/>
<circle cx="334.0" cy="504.9" r="2.05" fill="#fdae61"/>
<circle cx="59.0" cy="503.6" r="2.05" fill="#fdae61"/>
<circle cx="334.2" cy="498.1" r="2.05" fill="#fdae61"/>
<circle cx="334.6" cy="500.1" r="2.05" fill="#fdae61"/>
<circle cx="334.7" cy="502.0" r="2.05" fill="#fdae61"/>
<circle cx="334.4" cy="503.8" r="2.05" fill="#fdae61"/>
<circle cx="167.0" cy="502.6" r="1.1" fill="#fff"/>
<circle cx="177.5" cy="500.9" r="1.1" fill="#fff"/>
<circle cx="187.0" cy="500.6" r="1.1" fill="#fff"/>
<circle cx="192.5" cy="500.3" r="1.1" fill="#fff"/>
<circle cx="200.5" cy="496.8" r="1.1" fill="#fff"/>
<circle cx="211.0" cy="491.0" r="1.1" fill="#fff"/>
<circle cx="213.5" cy="497.5" r="1.1" fill="#fff"/>
<circle cx="183.0" cy="501.5" r="1.1" fill="#fff"/>
<circle cx="116.3" cy="489.4" r="2.05" fill="#fdae61"/>
<circle cx="108.8" cy="493.9" r="2.05" fill="#fdae61"/>
<circle cx="116.8" cy="465.0" r="2.05" fill="#fdae61"/>
<circle cx="118.5" cy="467.2" r="2.05" fill="#fdae61"/>
<circle cx="117.9" cy="473.9" r="2.05" fill="#fdae61"/>
<circle cx="119.1" cy="477.8" r="2.05" fill="#fdae61"/>
<circle cx="119.1" cy="480.6" r="2.05" fill="#fdae61"/>
<circle cx="119.1" cy="482.8" r="2.05" fill="#fdae61"/>
<circle cx="115.9" cy="443.6" r="2.05" fill="#fdae61"/>
<circle cx="116.6" cy="450.2" r="2.05" fill="#fdae61"/>
<circle cx="143.1" cy="428.6" r="2.05" fill="#fdae61"/>
<circle cx="155.5" cy="428.6" r="2.05" fill="#fdae61"/>
<circle cx="157.3" cy="428.9" r="2.05" fill="#fdae61"/>
<circle cx="158.8" cy="429.5" r="2.05" fill="#fdae61"/>
<circle cx="158.5" cy="440.3" r="2.05" fill="#fdae61"/>
<circle cx="163.1" cy="443.6" r="2.05" fill="#fdae61"/>
<circle cx="157.3" cy="455.2" r="2.05" fill="#fdae61"/>
<circle cx="157.3" cy="458.0" r="2.05" fill="#fdae61"/>
<circle cx="179.8" cy="428.9" r="2.05" fill="#fdae61"/>
<circle cx="179.4" cy="439.4" r="2.05" fill="#fdae61"/>
<circle cx="179.6" cy="459.2" r="2.05" fill="#fdae61"/>
<circle cx="179.6" cy="462.5" r="2.05" fill="#fdae61"/>
<circle cx="193.7" cy="428.9" r="2.05" fill="#fdae61"/>
<circle cx="197.3" cy="428.9" r="2.05" fill="#fdae61"/>
<circle cx="199.5" cy="428.9" r="2.05" fill="#fdae61"/>
<circle cx="205.5" cy="428.7" r="2.05" fill="#fdae61"/>
<circle cx="207.6" cy="428.6" r="2.05" fill="#fdae61"/>
<circle cx="209.7" cy="428.6" r="2.05" fill="#fdae61"/>
<circle cx="211.8" cy="428.6" r="2.05" fill="#fdae61"/>
<circle cx="213.9" cy="428.6" r="2.05" fill="#fdae61"/>
<circle cx="216.0" cy="428.6" r="2.05" fill="#fdae61"/>
<circle cx="218.1" cy="428.6" r="2.05" fill="#fdae61"/>
<circle cx="220.0" cy="428.6" r="2.05" fill="#fdae61"/>
<circle cx="221.2" cy="428.6" r="2.05" fill="#fdae61"/>
<circle cx="193.9" cy="440.0" r="2.05" fill="#fdae61"/>
<circle cx="197.9" cy="454.2" r="2.05" fill="#fdae61"/>
<circle cx="206.0" cy="454.2" r="2.05" fill="#fdae61"/>
<circle cx="208.4" cy="454.4" r="2.05" fill="#fdae61"/>
<circle cx="210.8" cy="454.4" r="2.05" fill="#fdae61"/>
<circle cx="213.2" cy="454.4" r="2.05" fill="#fdae61"/>
<circle cx="215.6" cy="454.4" r="2.05" fill="#fdae61"/>
<circle cx="218.0" cy="454.4" r="2.05" fill="#fdae61"/>
<circle cx="220.4" cy="454.4" r="2.05" fill="#fdae61"/>
<circle cx="221.5" cy="454.4" r="2.05" fill="#fdae61"/>
<circle cx="219.3" cy="413.0" r="2.05" fill="#fdae61"/>
<circle cx="226.5" cy="413.0" r="2.05" fill="#fdae61"/>
<circle cx="228.9" cy="413.0" r="2.05" fill="#fdae61"/>
<circle cx="227.0" cy="432.8" r="2.05" fill="#fdae61"/>
<circle cx="212.4" cy="438.0" r="2.05" fill="#fdae61"/>
<circle cx="218.8" cy="437.0" r="2.05" fill="#fdae61"/>
<circle cx="227.6" cy="454.4" r="2.05" fill="#fdae61"/>
<circle cx="215.3" cy="460.0" r="2.05" fill="#fdae61"/>
<circle cx="218.8" cy="463.5" r="2.05" fill="#fdae61"/>
<circle cx="220.6" cy="465.5" r="2.05" fill="#fdae61"/>
<circle cx="219.6" cy="467.0" r="2.05" fill="#fdae61"/>
<circle cx="217.3" cy="469.4" r="2.05" fill="#fdae61"/>
<circle cx="218.0" cy="472.8" r="2.05" fill="#fdae61"/>
<circle cx="227.3" cy="470.6" r="2.05" fill="#fdae61"/>
<circle cx="206.7" cy="473.9" r="2.05" fill="#fdae61"/>
<circle cx="227.3" cy="491.1" r="2.05" fill="#fdae61"/>
<circle cx="230.7" cy="497.2" r="2.05" fill="#fdae61"/>
<circle cx="241.8" cy="496.3" r="2.05" fill="#fdae61"/>
<circle cx="260.8" cy="489.8" r="2.05" fill="#fdae61"/>
<circle cx="163.0" cy="466.1" r="2.05" fill="#fdae61"/>
<circle cx="163.0" cy="468.3" r="2.05" fill="#fdae61"/>
<circle cx="163.0" cy="470.0" r="2.05" fill="#fdae61"/>
<circle cx="161.5" cy="474.4" r="2.05" fill="#fdae61"/>
<circle cx="163.0" cy="480.6" r="2.05" fill="#fdae61"/>
<circle cx="162.5" cy="486.7" r="2.05" fill="#fdae61"/>
<circle cx="179.9" cy="472.6" r="2.05" fill="#fdae61"/>
<circle cx="177.0" cy="478.3" r="2.05" fill="#fdae61"/>
<circle cx="180.5" cy="478.0" r="2.05" fill="#fdae61"/>
<circle cx="183.0" cy="480.0" r="2.05" fill="#fdae61"/>
<circle cx="190.2" cy="467.0" r="2.05" fill="#fdae61"/>
<circle cx="199.4" cy="467.0" r="2.05" fill="#fdae61"/>
<circle cx="189.8" cy="478.7" r="2.05" fill="#fdae61"/>
<circle cx="198.8" cy="476.8" r="2.05" fill="#fdae61"/>
<circle cx="206.7" cy="473.7" r="2.05" fill="#fdae61"/>
<circle cx="188.0" cy="487.4" r="2.05" fill="#fdae61"/>
<circle cx="191.5" cy="487.4" r="2.05" fill="#fdae61"/>
<circle cx="197.0" cy="485.0" r="2.05" fill="#fdae61"/>
<circle cx="200.0" cy="487.0" r="2.05" fill="#fdae61"/>
<circle cx="197.0" cy="490.0" r="2.05" fill="#fdae61"/>
<circle cx="196.0" cy="492.5" r="2.05" fill="#fdae61"/>
<circle cx="199.0" cy="483.5" r="2.05" fill="#fdae61"/>
<circle cx="304.2" cy="425.3" r="2.05" fill="#fdae61"/>
<circle cx="302.0" cy="449.7" r="2.05" fill="#fdae61"/>
<circle cx="304.8" cy="449.7" r="2.05" fill="#fdae61"/>
<circle cx="317.1" cy="455.6" r="2.05" fill="#fdae61"/>
<circle cx="321.7" cy="471.1" r="2.05" fill="#fdae61"/>
<circle cx="303.0" cy="489.7" r="2.05" fill="#fdae61"/>
<circle cx="310.9" cy="490.9" r="2.05" fill="#fdae61"/>
<circle cx="316.5" cy="485.2" r="2.05" fill="#fdae61"/>
<circle cx="322.2" cy="488.6" r="2.05" fill="#fdae61"/>
<circle cx="306.0" cy="492.0" r="2.05" fill="#fdae61"/>
<circle cx="313.0" cy="493.0" r="2.05" fill="#fdae61"/>
<circle cx="319.0" cy="491.5" r="2.05" fill="#fdae61"/>
<circle cx="325.0" cy="492.5" r="2.05" fill="#fdae61"/>
<circle cx="329.0" cy="493.5" r="2.05" fill="#fdae61"/>
<circle cx="298.0" cy="494.0" r="2.05" fill="#fdae61"/>
<circle cx="295.0" cy="496.0" r="2.05" fill="#fdae61"/>
<circle cx="313.5" cy="481.4" r="2.05" fill="#fdae61"/>
<circle cx="314.3" cy="484.1" r="2.05" fill="#fdae61"/>
<circle cx="321.8" cy="482.2" r="2.05" fill="#fdae61"/>
<circle cx="322.0" cy="487.2" r="2.05" fill="#fdae61"/>
<circle cx="322.0" cy="489.4" r="2.05" fill="#fdae61"/>
<circle cx="301.7" cy="490.6" r="2.05" fill="#fdae61"/>
<circle cx="303.9" cy="488.9" r="2.05" fill="#fdae61"/>
<circle cx="306.5" cy="488.5" r="2.05" fill="#fdae61"/>
<circle cx="311.0" cy="488.9" r="2.05" fill="#fdae61"/>
<circle cx="317.0" cy="489.4" r="2.05" fill="#fdae61"/>
<circle cx="310.3" cy="491.7" r="2.05" fill="#fdae61"/>
<circle cx="133.0" cy="469.0" r="2.05" fill="#fdae61"/>
<circle cx="133.8" cy="466.8" r="2.05" fill="#fdae61"/>
<circle cx="136.0" cy="466.3" r="2.05" fill="#fdae61"/>
<circle cx="138.3" cy="467.3" r="2.05" fill="#fdae61"/>
<circle cx="140.5" cy="465.8" r="2.05" fill="#fdae61"/>
<circle cx="142.8" cy="466.3" r="2.05" fill="#fdae61"/>
<circle cx="144.0" cy="467.0" r="2.05" fill="#fdae61"/>
<circle cx="136.5" cy="469.3" r="2.05" fill="#fdae61"/>
<circle cx="139.0" cy="469.0" r="2.05" fill="#fdae61"/>
<circle cx="139.2" cy="475.1" r="2.05" fill="#fdae61"/>
<circle cx="138.0" cy="477.5" r="2.05" fill="#fdae61"/>
<circle cx="140.8" cy="478.0" r="2.05" fill="#fdae61"/>
<circle cx="136.5" cy="480.0" r="2.05" fill="#fdae61"/>
<circle cx="139.0" cy="480.5" r="2.05" fill="#fdae61"/>
<circle cx="141.5" cy="481.0" r="2.05" fill="#fdae61"/>
<circle cx="143.0" cy="483.0" r="2.05" fill="#fdae61"/>
<circle cx="135.5" cy="483.5" r="2.05" fill="#fdae61"/>
<circle cx="137.5" cy="485.5" r="2.05" fill="#fdae61"/>
<circle cx="139.5" cy="487.5" r="2.05" fill="#fdae61"/>
<circle cx="143.5" cy="486.5" r="2.05" fill="#fdae61"/>
<circle cx="145.0" cy="488.5" r="2.05" fill="#fdae61"/>
<circle cx="134.5" cy="490.0" r="2.05" fill="#fdae61"/>
<circle cx="136.5" cy="491.5" r="2.05" fill="#fdae61"/>
<circle cx="139.5" cy="491.0" r="2.05" fill="#fdae61"/>
<circle cx="142.5" cy="491.0" r="2.05" fill="#fdae61"/>
<circle cx="145.5" cy="492.5" r="2.05" fill="#fdae61"/>
<circle cx="137.0" cy="488.5" r="2.05" fill="#fdae61"/>
<circle cx="141.0" cy="489.5" r="2.05" fill="#fdae61"/>
<circle cx="212.0" cy="486.0" r="2.05" fill="#fdae61"/>
<circle cx="215.0" cy="484.8" r="2.05" fill="#fdae61"/>
<circle cx="219.0" cy="485.5" r="2.05" fill="#fdae61"/>
<circle cx="210.0" cy="488.5" r="2.05" fill="#fdae61"/>
<circle cx="206.0" cy="490.0" r="2.05" fill="#fdae61"/>
<circle cx="141.3" cy="485.0" r="0.9" fill="#fff"/>
<line x1="44.5" y1="483.5" x2="336.1" y2="483.5" stroke="#f6c2f8" stroke-width="1.45"/>
<line x1="44.5" y1="483.5" x2="336.1" y2="483.5" stroke="#e266ee" stroke-width="1.45" stroke-dasharray="1.3 1.3"/>
<line x1="43.55" y1="408.9" x2="43.55" y2="511.8" stroke="#333333" stroke-width="1.3"/>
<line x1="40.2" y1="416.9" x2="43.55" y2="416.9" stroke="#333333" stroke-width="1"/>
<text x="38.0" y="419.85" font-size="8.3" text-anchor="end" font-weight="normal" fill="#222222" >27</text>
<line x1="40.2" y1="438.3" x2="43.55" y2="438.3" stroke="#333333" stroke-width="1"/>
<text x="38.0" y="441.25" font-size="8.3" text-anchor="end" font-weight="normal" fill="#222222" >20</text>
<line x1="40.2" y1="471.8" x2="43.55" y2="471.8" stroke="#333333" stroke-width="1"/>
<text x="38.0" y="474.75" font-size="8.3" text-anchor="end" font-weight="normal" fill="#222222" >10</text>
<line x1="40.2" y1="506.5" x2="43.55" y2="506.5" stroke="#333333" stroke-width="1"/>
<text x="38.0" y="509.45" font-size="8.3" text-anchor="end" font-weight="normal" fill="#222222" >0</text>
<text transform="translate(23.2,458.6) rotate(-90)" font-size="8.6" text-anchor="middle" fill="#222222" textLength="32.5" lengthAdjust="spacingAndGlyphs">-log<tspan font-size="4.8" dy="0.9">10</tspan><tspan dy="-0.9"> (</tspan><tspan font-style="italic">p</tspan>)</text>
<text x="5.2" y="417.2" font-size="10.8" text-anchor="start" font-weight="bold" fill="#111" >D</text>
<line x1="42.9" y1="511.2" x2="338.8" y2="511.2" stroke="#333333" stroke-width="1.3"/>
<line x1="57.1" y1="511.2" x2="57.1" y2="514.4" stroke="#333333" stroke-width="1"/>
<line x1="113.4" y1="511.2" x2="113.4" y2="514.4" stroke="#333333" stroke-width="1"/>
<line x1="168.2" y1="511.2" x2="168.2" y2="514.4" stroke="#333333" stroke-width="1"/>
<line x1="222.9" y1="511.2" x2="222.9" y2="514.4" stroke="#333333" stroke-width="1"/>
<line x1="278.6" y1="511.2" x2="278.6" y2="514.4" stroke="#333333" stroke-width="1"/>
<line x1="334.6" y1="511.2" x2="334.6" y2="514.4" stroke="#333333" stroke-width="1"/>
<text transform="translate(56.7,525.3) rotate(45)" font-size="7.8" text-anchor="middle" dominant-baseline="central" fill="#222222">700</text>
<text transform="translate(110.9,525.3) rotate(45)" font-size="7.8" text-anchor="middle" dominant-baseline="central" fill="#222222">710</text>
<text transform="translate(167,525.3) rotate(45)" font-size="7.8" text-anchor="middle" dominant-baseline="central" fill="#222222">720</text>
<text transform="translate(222.1,525.3) rotate(45)" font-size="7.8" text-anchor="middle" dominant-baseline="central" fill="#222222">730</text>
<text transform="translate(277.8,525.3) rotate(45)" font-size="7.8" text-anchor="middle" dominant-baseline="central" fill="#222222">740</text>
<text transform="translate(333,525.3) rotate(45)" font-size="7.8" text-anchor="middle" dominant-baseline="central" fill="#222222">750</text>
<text x="198" y="542.3" font-size="7.9" text-anchor="middle" font-weight="normal" fill="#222222" textLength="54.7" lengthAdjust="spacingAndGlyphs" >Position (Mbp)</text>
<text x="341.1" y="414.8" font-size="8.4" text-anchor="end" font-weight="bold" fill="#111" textLength="19.4" lengthAdjust="spacingAndGlyphs" >600K</text>
<text x="341.1" y="424.8" font-size="7.6" text-anchor="end" font-weight="normal" fill="#444" textLength="28.3" lengthAdjust="spacingAndGlyphs" >m = 2587</text>
<rect x="226.2" y="508.5" width="2.7" height="12.100000000000023" fill="#b9e27e" stroke="#8cc63f" stroke-width="0.8"/>
<rect x="240.1" y="508.5" width="2.90" height="12.10" fill="#e6168c"/>
<rect x="266.3" y="508.5" width="2.80" height="12.10" fill="#e6168c"/>
<rect x="292.9" y="508.5" width="3.00" height="12.10" fill="#e6168c"/>
<rect x="333.8" y="508.5" width="5.30" height="12.10" fill="#e6168c"/>
<polygon points="227.40,500.80 228.06,503.19 230.54,503.08 228.47,504.45 229.34,506.77 227.40,505.22 225.46,506.77 226.33,504.45 224.26,503.08 226.74,503.19" fill="#7dc242" stroke="#5a9a2a" stroke-width="0.4" stroke-linejoin="round"/>
<polygon points="334.90,500.20 335.52,502.45 337.85,502.34 335.90,503.63 336.72,505.81 334.90,504.35 333.08,505.81 333.90,503.63 331.95,502.34 334.28,502.45" fill="#e0117f" stroke="#a0105f" stroke-width="0.4" stroke-linejoin="round"/>
<polygon points="337.90,500.20 338.52,502.45 340.85,502.34 338.90,503.63 339.72,505.81 337.90,504.35 336.08,505.81 336.90,503.63 334.95,502.34 337.28,502.45" fill="#e0117f" stroke="#a0105f" stroke-width="0.4" stroke-linejoin="round"/>
<rect x="373.1" y="479.4" width="2.6" height="11.6" fill="#b9e27e" stroke="#8cc63f" stroke-width="0.8"/>
<rect x="373.0" y="502.3" width="2.80" height="11.70" fill="#e6168c"/>
<rect x="373.0" y="525.2" width="2.80" height="11.10" fill="#f5a300"/>
<text x="380.1" y="483.8" font-size="8.3" text-anchor="start" font-weight="normal" fill="#222222" textLength="99.7" lengthAdjust="spacingAndGlyphs" >Mitochondrial transcription</text>
<text x="380.1" y="493.2" font-size="8.3" text-anchor="start" font-weight="normal" fill="#222222" textLength="100.2" lengthAdjust="spacingAndGlyphs" >termination factor (mTERF)</text>
<text x="380.1" y="511.2" font-size="8.3" text-anchor="start" font-weight="normal" fill="#222222" textLength="144.7" lengthAdjust="spacingAndGlyphs" >Pentatricopeptide repeat protein (PPR)</text>
<text x="380.1" y="533.5" font-size="8.3" text-anchor="start" font-weight="normal" fill="#222222" textLength="147.3" lengthAdjust="spacingAndGlyphs" >Restoration of fertility-like PPR (RFL-PPR)</text>
</svg>
</body></html>
